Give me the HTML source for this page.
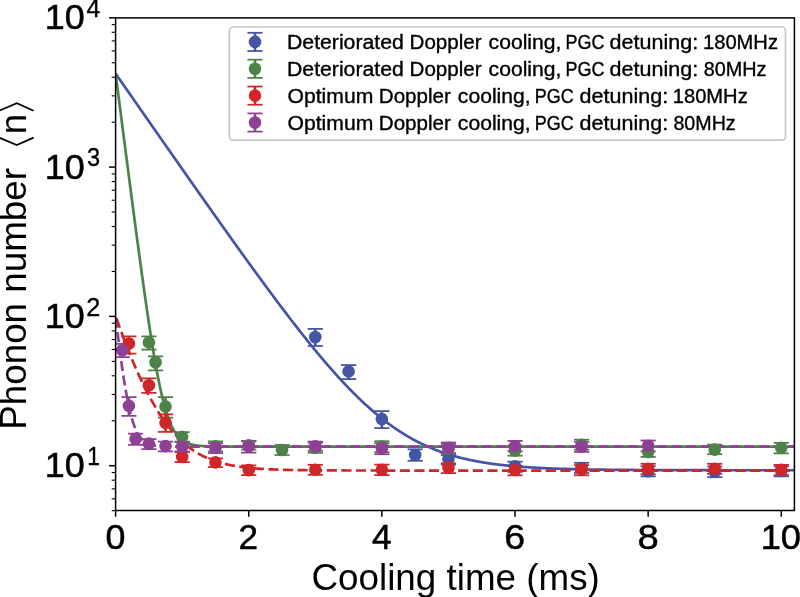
<!DOCTYPE html>
<html><head><meta charset="utf-8"><style>
html,body{margin:0;padding:0;background:#fff;width:800px;height:597px;overflow:hidden;font-family:"Liberation Sans",sans-serif;}
svg{display:block;will-change:transform;}
</style></head><body>
<svg width="800" height="597" viewBox="0 0 800 597">
<rect x="0" y="0" width="800" height="597" fill="#fff"/>
<defs><clipPath id="ax"><rect x="115.60" y="17.90" width="678.80" height="492.60"/></clipPath></defs>
<g clip-path="url(#ax)">
<line x1="315.31" y1="328.90" x2="315.31" y2="346.00" stroke="#4455a5" stroke-width="2.60"/>
<line x1="307.71" y1="328.90" x2="322.91" y2="328.90" stroke="#4455a5" stroke-width="1.75"/>
<line x1="307.71" y1="346.00" x2="322.91" y2="346.00" stroke="#4455a5" stroke-width="1.75"/>
<line x1="348.59" y1="365.10" x2="348.59" y2="379.10" stroke="#4455a5" stroke-width="2.60"/>
<line x1="340.99" y1="365.10" x2="356.19" y2="365.10" stroke="#4455a5" stroke-width="1.75"/>
<line x1="340.99" y1="379.10" x2="356.19" y2="379.10" stroke="#4455a5" stroke-width="1.75"/>
<line x1="381.88" y1="411.10" x2="381.88" y2="428.10" stroke="#4455a5" stroke-width="2.60"/>
<line x1="374.28" y1="411.10" x2="389.48" y2="411.10" stroke="#4455a5" stroke-width="1.75"/>
<line x1="374.28" y1="428.10" x2="389.48" y2="428.10" stroke="#4455a5" stroke-width="1.75"/>
<line x1="415.16" y1="449.30" x2="415.16" y2="460.80" stroke="#4455a5" stroke-width="2.60"/>
<line x1="407.56" y1="449.30" x2="422.76" y2="449.30" stroke="#4455a5" stroke-width="1.75"/>
<line x1="407.56" y1="460.80" x2="422.76" y2="460.80" stroke="#4455a5" stroke-width="1.75"/>
<line x1="448.45" y1="455.20" x2="448.45" y2="464.60" stroke="#4455a5" stroke-width="2.60"/>
<line x1="440.85" y1="455.20" x2="456.05" y2="455.20" stroke="#4455a5" stroke-width="1.75"/>
<line x1="440.85" y1="464.60" x2="456.05" y2="464.60" stroke="#4455a5" stroke-width="1.75"/>
<line x1="515.02" y1="461.70" x2="515.02" y2="471.90" stroke="#4455a5" stroke-width="2.60"/>
<line x1="507.42" y1="461.70" x2="522.62" y2="461.70" stroke="#4455a5" stroke-width="1.75"/>
<line x1="507.42" y1="471.90" x2="522.62" y2="471.90" stroke="#4455a5" stroke-width="1.75"/>
<line x1="581.59" y1="462.80" x2="581.59" y2="473.00" stroke="#4455a5" stroke-width="2.60"/>
<line x1="573.99" y1="462.80" x2="589.19" y2="462.80" stroke="#4455a5" stroke-width="1.75"/>
<line x1="573.99" y1="473.00" x2="589.19" y2="473.00" stroke="#4455a5" stroke-width="1.75"/>
<line x1="648.16" y1="466.30" x2="648.16" y2="476.40" stroke="#4455a5" stroke-width="2.60"/>
<line x1="640.56" y1="466.30" x2="655.76" y2="466.30" stroke="#4455a5" stroke-width="1.75"/>
<line x1="640.56" y1="476.40" x2="655.76" y2="476.40" stroke="#4455a5" stroke-width="1.75"/>
<line x1="714.73" y1="466.50" x2="714.73" y2="477.20" stroke="#4455a5" stroke-width="2.60"/>
<line x1="707.13" y1="466.50" x2="722.33" y2="466.50" stroke="#4455a5" stroke-width="1.75"/>
<line x1="707.13" y1="477.20" x2="722.33" y2="477.20" stroke="#4455a5" stroke-width="1.75"/>
<line x1="781.30" y1="466.30" x2="781.30" y2="476.40" stroke="#4455a5" stroke-width="2.60"/>
<line x1="773.70" y1="466.30" x2="788.90" y2="466.30" stroke="#4455a5" stroke-width="1.75"/>
<line x1="773.70" y1="476.40" x2="788.90" y2="476.40" stroke="#4455a5" stroke-width="1.75"/>
<path d="M115.60,73.55 L116.18,74.38 L116.75,75.21 L117.33,76.04 L117.91,76.87 L118.48,77.70 L119.06,78.53 L119.64,79.36 L120.22,80.19 L120.79,81.02 L121.37,81.85 L121.95,82.67 L122.52,83.50 L123.10,84.33 L123.68,85.16 L124.25,85.99 L124.83,86.82 L125.41,87.65 L125.98,88.48 L126.56,89.31 L127.14,90.14 L127.72,90.96 L128.29,91.79 L128.87,92.62 L129.45,93.45 L130.02,94.28 L130.60,95.11 L131.18,95.94 L131.75,96.77 L132.33,97.59 L132.91,98.42 L133.49,99.25 L134.06,100.08 L134.64,100.91 L135.22,101.74 L135.79,102.57 L136.37,103.39 L136.95,104.22 L137.52,105.05 L138.10,105.88 L138.68,106.71 L139.25,107.54 L139.83,108.36 L140.41,109.19 L140.99,110.02 L141.56,110.85 L142.14,111.68 L142.72,112.50 L143.29,113.33 L143.87,114.16 L144.45,114.99 L145.02,115.82 L145.60,116.64 L146.18,117.47 L146.75,118.30 L147.33,119.13 L147.91,119.95 L148.49,120.78 L149.06,121.61 L149.64,122.44 L150.22,123.26 L150.79,124.09 L151.37,124.92 L151.95,125.75 L152.52,126.57 L153.10,127.40 L153.68,128.23 L154.25,129.05 L154.83,129.88 L155.41,130.71 L155.99,131.53 L156.56,132.36 L157.14,133.19 L157.72,134.01 L158.29,134.84 L158.87,135.67 L159.45,136.49 L160.02,137.32 L160.60,138.15 L161.18,138.97 L161.76,139.80 L162.33,140.63 L162.91,141.45 L163.49,142.28 L164.06,143.10 L164.64,143.93 L165.22,144.76 L165.79,145.58 L166.37,146.41 L166.95,147.23 L167.52,148.06 L168.10,148.88 L168.68,149.71 L169.26,150.53 L169.83,151.36 L170.41,152.18 L170.99,153.01 L171.56,153.83 L172.14,154.66 L172.72,155.48 L173.29,156.31 L173.87,157.13 L174.45,157.96 L175.02,158.78 L175.60,159.61 L176.18,160.43 L176.76,161.26 L177.33,162.08 L177.91,162.90 L178.49,163.73 L179.06,164.55 L179.64,165.38 L180.22,166.20 L180.79,167.02 L181.37,167.85 L181.95,168.67 L182.53,169.49 L183.10,170.32 L183.68,171.14 L184.26,171.96 L184.83,172.79 L185.41,173.61 L185.99,174.43 L186.56,175.25 L187.14,176.08 L187.72,176.90 L188.29,177.72 L188.87,178.54 L189.45,179.36 L190.03,180.19 L190.60,181.01 L191.18,181.83 L191.76,182.65 L192.33,183.47 L192.91,184.29 L193.49,185.12 L194.06,185.94 L194.64,186.76 L195.22,187.58 L195.79,188.40 L196.37,189.22 L196.95,190.04 L197.53,190.86 L198.10,191.68 L198.68,192.50 L199.26,193.32 L199.83,194.14 L200.41,194.96 L200.99,195.78 L201.56,196.60 L202.14,197.42 L202.72,198.23 L203.29,199.05 L203.87,199.87 L204.45,200.69 L205.03,201.51 L205.60,202.33 L206.18,203.14 L206.76,203.96 L207.33,204.78 L207.91,205.60 L208.49,206.41 L209.06,207.23 L209.64,208.05 L210.22,208.86 L210.80,209.68 L211.37,210.50 L211.95,211.31 L212.53,212.13 L213.10,212.94 L213.68,213.76 L214.26,214.58 L214.83,215.39 L215.41,216.21 L215.99,217.02 L216.56,217.83 L217.14,218.65 L217.72,219.46 L218.30,220.28 L218.87,221.09 L219.45,221.90 L220.03,222.72 L220.60,223.53 L221.18,224.34 L221.76,225.15 L222.33,225.97 L222.91,226.78 L223.49,227.59 L224.06,228.40 L224.64,229.21 L225.22,230.02 L225.80,230.83 L226.37,231.65 L226.95,232.46 L227.53,233.27 L228.10,234.07 L228.68,234.88 L229.26,235.69 L229.83,236.50 L230.41,237.31 L230.99,238.12 L231.56,238.93 L232.14,239.73 L232.72,240.54 L233.30,241.35 L233.87,242.16 L234.45,242.96 L235.03,243.77 L235.60,244.57 L236.18,245.38 L236.76,246.19 L237.33,246.99 L237.91,247.79 L238.49,248.60 L239.07,249.40 L239.64,250.21 L240.22,251.01 L240.80,251.81 L241.37,252.61 L241.95,253.42 L242.53,254.22 L243.10,255.02 L243.68,255.82 L244.26,256.62 L244.83,257.42 L245.41,258.22 L245.99,259.02 L246.57,259.82 L247.14,260.62 L247.72,261.42 L248.30,262.22 L248.87,263.01 L249.45,263.81 L250.03,264.61 L250.60,265.40 L251.18,266.20 L251.76,266.99 L252.33,267.79 L252.91,268.58 L253.49,269.38 L254.07,270.17 L254.64,270.96 L255.22,271.76 L255.80,272.55 L256.37,273.34 L256.95,274.13 L257.53,274.92 L258.10,275.71 L258.68,276.50 L259.26,277.29 L259.83,278.08 L260.41,278.87 L260.99,279.66 L261.57,280.44 L262.14,281.23 L262.72,282.02 L263.30,282.80 L263.87,283.59 L264.45,284.37 L265.03,285.15 L265.60,285.94 L266.18,286.72 L266.76,287.50 L267.34,288.28 L267.91,289.06 L268.49,289.84 L269.07,290.62 L269.64,291.40 L270.22,292.18 L270.80,292.96 L271.37,293.73 L271.95,294.51 L272.53,295.29 L273.10,296.06 L273.68,296.84 L274.26,297.61 L274.84,298.38 L275.41,299.15 L275.99,299.93 L276.57,300.70 L277.14,301.47 L277.72,302.24 L278.30,303.01 L278.87,303.77 L279.45,304.54 L280.03,305.31 L280.60,306.07 L281.18,306.84 L281.76,307.60 L282.34,308.36 L282.91,309.13 L283.49,309.89 L284.07,310.65 L284.64,311.41 L285.22,312.17 L285.80,312.93 L286.37,313.68 L286.95,314.44 L287.53,315.20 L288.11,315.95 L288.68,316.71 L289.26,317.46 L289.84,318.21 L290.41,318.96 L290.99,319.71 L291.57,320.46 L292.14,321.21 L292.72,321.96 L293.30,322.70 L293.87,323.45 L294.45,324.19 L295.03,324.94 L295.61,325.68 L296.18,326.42 L296.76,327.16 L297.34,327.90 L297.91,328.64 L298.49,329.37 L299.07,330.11 L299.64,330.85 L300.22,331.58 L300.80,332.31 L301.37,333.04 L301.95,333.78 L302.53,334.50 L303.11,335.23 L303.68,335.96 L304.26,336.69 L304.84,337.41 L305.41,338.13 L305.99,338.86 L306.57,339.58 L307.14,340.30 L307.72,341.02 L308.30,341.73 L308.87,342.45 L309.45,343.16 L310.03,343.88 L310.61,344.59 L311.18,345.30 L311.76,346.01 L312.34,346.72 L312.91,347.43 L313.49,348.13 L314.07,348.84 L314.64,349.54 L315.22,350.24 L315.80,350.94 L316.38,351.64 L316.95,352.34 L317.53,353.03 L318.11,353.73 L318.68,354.42 L319.26,355.11 L319.84,355.80 L320.41,356.49 L320.99,357.17 L321.57,357.86 L322.14,358.54 L322.72,359.23 L323.30,359.91 L323.88,360.59 L324.45,361.26 L325.03,361.94 L325.61,362.61 L326.18,363.28 L326.76,363.96 L327.34,364.62 L327.91,365.29 L328.49,365.96 L329.07,366.62 L329.64,367.28 L330.22,367.94 L330.80,368.60 L331.38,369.26 L331.95,369.92 L332.53,370.57 L333.11,371.22 L333.68,371.87 L334.26,372.52 L334.84,373.17 L335.41,373.81 L335.99,374.45 L336.57,375.09 L337.14,375.73 L337.72,376.37 L338.30,377.00 L338.88,377.64 L339.45,378.27 L340.03,378.90 L340.61,379.52 L341.18,380.15 L341.76,380.77 L342.34,381.39 L342.91,382.01 L343.49,382.63 L344.07,383.25 L344.65,383.86 L345.22,384.47 L345.80,385.08 L346.38,385.69 L346.95,386.29 L347.53,386.89 L348.11,387.49 L348.68,388.09 L349.26,388.69 L349.84,389.28 L350.41,389.87 L350.99,390.46 L351.57,391.05 L352.15,391.64 L352.72,392.22 L353.30,392.80 L353.88,393.38 L354.45,393.95 L355.03,394.53 L355.61,395.10 L356.18,395.67 L356.76,396.24 L357.34,396.80 L357.91,397.36 L358.49,397.92 L359.07,398.48 L359.65,399.04 L360.22,399.59 L360.80,400.14 L361.38,400.69 L361.95,401.23 L362.53,401.78 L363.11,402.32 L363.68,402.86 L364.26,403.39 L364.84,403.93 L365.42,404.46 L365.99,404.99 L366.57,405.51 L367.15,406.04 L367.72,406.56 L368.30,407.08 L368.88,407.59 L369.45,408.11 L370.03,408.62 L370.61,409.13 L371.18,409.63 L371.76,410.14 L372.34,410.64 L372.92,411.14 L373.49,411.63 L374.07,412.13 L374.65,412.62 L375.22,413.11 L375.80,413.59 L376.38,414.07 L376.95,414.55 L377.53,415.03 L378.11,415.51 L378.68,415.98 L379.26,416.45 L379.84,416.92 L380.42,417.38 L380.99,417.85 L381.57,418.30 L382.15,418.76 L382.72,419.22 L383.30,419.67 L383.88,420.12 L384.45,420.56 L385.03,421.01 L385.61,421.45 L386.18,421.89 L386.76,422.32 L387.34,422.76 L387.92,423.19 L388.49,423.61 L389.07,424.04 L389.65,424.46 L390.22,424.88 L390.80,425.30 L391.38,425.71 L391.95,426.12 L392.53,426.53 L393.11,426.94 L393.69,427.34 L394.26,427.74 L394.84,428.14 L395.42,428.54 L395.99,428.93 L396.57,429.32 L397.15,429.71 L397.72,430.10 L398.30,430.48 L398.88,430.86 L399.45,431.24 L400.03,431.61 L400.61,431.98 L401.19,432.35 L401.76,432.72 L402.34,433.08 L402.92,433.44 L403.49,433.80 L404.07,434.16 L404.65,434.51 L405.22,434.86 L405.80,435.21 L406.38,435.56 L406.95,435.90 L407.53,436.24 L408.11,436.58 L408.69,436.92 L409.26,437.25 L409.84,437.58 L410.42,437.91 L410.99,438.23 L411.57,438.56 L412.15,438.88 L412.72,439.19 L413.30,439.51 L413.88,439.82 L414.45,440.13 L415.03,440.44 L415.61,440.74 L416.19,441.05 L416.76,441.35 L417.34,441.65 L417.92,441.94 L418.49,442.23 L419.07,442.52 L419.65,442.81 L420.22,443.10 L420.80,443.38 L421.38,443.66 L421.96,443.94 L422.53,444.22 L423.11,444.49 L423.69,444.76 L424.26,445.03 L424.84,445.30 L425.42,445.56 L425.99,445.83 L426.57,446.09 L427.15,446.34 L427.72,446.60 L428.30,446.85 L428.88,447.10 L429.46,447.35 L430.03,447.60 L430.61,447.84 L431.19,448.08 L431.76,448.32 L432.34,448.56 L432.92,448.80 L433.49,449.03 L434.07,449.26 L434.65,449.49 L435.22,449.72 L435.80,449.94 L436.38,450.16 L436.96,450.38 L437.53,450.60 L438.11,450.82 L438.69,451.03 L439.26,451.25 L439.84,451.46 L440.42,451.66 L440.99,451.87 L441.57,452.08 L442.15,452.28 L442.72,452.48 L443.30,452.68 L443.88,452.87 L444.46,453.07 L445.03,453.26 L445.61,453.45 L446.19,453.64 L446.76,453.83 L447.34,454.01 L447.92,454.20 L448.49,454.38 L449.07,454.56 L449.65,454.74 L450.23,454.91 L450.80,455.09 L451.38,455.26 L451.96,455.43 L452.53,455.60 L453.11,455.77 L453.69,455.93 L454.26,456.10 L454.84,456.26 L455.42,456.42 L455.99,456.58 L456.57,456.74 L457.15,456.89 L457.73,457.05 L458.30,457.20 L458.88,457.35 L459.46,457.50 L460.03,457.65 L460.61,457.79 L461.19,457.94 L461.76,458.08 L462.34,458.22 L462.92,458.36 L463.49,458.50 L464.07,458.64 L464.65,458.77 L465.23,458.91 L465.80,459.04 L466.38,459.17 L466.96,459.30 L467.53,459.43 L468.11,459.56 L468.69,459.68 L469.26,459.81 L469.84,459.93 L470.42,460.05 L471.00,460.17 L471.57,460.29 L472.15,460.41 L472.73,460.53 L473.30,460.64 L473.88,460.76 L474.46,460.87 L475.03,460.98 L475.61,461.09 L476.19,461.20 L476.76,461.31 L477.34,461.41 L477.92,461.52 L478.50,461.62 L479.07,461.73 L479.65,461.83 L480.23,461.93 L480.80,462.03 L481.38,462.13 L481.96,462.23 L482.53,462.32 L483.11,462.42 L483.69,462.51 L484.26,462.61 L484.84,462.70 L485.42,462.79 L486.00,462.88 L486.57,462.97 L487.15,463.06 L487.73,463.14 L488.30,463.23 L488.88,463.31 L489.46,463.40 L490.03,463.48 L490.61,463.56 L491.19,463.64 L491.76,463.72 L492.34,463.80 L492.92,463.88 L493.50,463.96 L494.07,464.04 L494.65,464.11 L495.23,464.19 L495.80,464.26 L496.38,464.33 L496.96,464.41 L497.53,464.48 L498.11,464.55 L498.69,464.62 L499.27,464.69 L499.84,464.75 L500.42,464.82 L501.00,464.89 L501.57,464.95 L502.15,465.02 L502.73,465.08 L503.30,465.15 L503.88,465.21 L504.46,465.27 L505.03,465.33 L505.61,465.39 L506.19,465.45 L506.77,465.51 L507.34,465.57 L507.92,465.63 L508.50,465.69 L509.07,465.74 L509.65,465.80 L510.23,465.85 L510.80,465.91 L511.38,465.96 L511.96,466.01 L512.53,466.07 L513.11,466.12 L513.69,466.17 L514.27,466.22 L514.84,466.27 L515.42,466.32 L516.00,466.37 L516.57,466.42 L517.15,466.46 L517.73,466.51 L518.30,466.56 L518.88,466.60 L519.46,466.65 L520.03,466.69 L520.61,466.74 L521.19,466.78 L521.77,466.83 L522.34,466.87 L522.92,466.91 L523.50,466.95 L524.07,466.99 L524.65,467.03 L525.23,467.07 L525.80,467.11 L526.38,467.15 L526.96,467.19 L527.54,467.23 L528.11,467.27 L528.69,467.30 L529.27,467.34 L529.84,467.38 L530.42,467.41 L531.00,467.45 L531.57,467.48 L532.15,467.52 L532.73,467.55 L533.30,467.59 L533.88,467.62 L534.46,467.65 L535.04,467.69 L535.61,467.72 L536.19,467.75 L536.77,467.78 L537.34,467.81 L537.92,467.84 L538.50,467.87 L539.07,467.90 L539.65,467.93 L540.23,467.96 L540.80,467.99 L541.38,468.02 L541.96,468.05 L542.54,468.08 L543.11,468.10 L543.69,468.13 L544.27,468.16 L544.84,468.18 L545.42,468.21 L546.00,468.24 L546.57,468.26 L547.15,468.29 L547.73,468.31 L548.30,468.34 L548.88,468.36 L549.46,468.38 L550.04,468.41 L550.61,468.43 L551.19,468.45 L551.77,468.48 L552.34,468.50 L552.92,468.52 L553.50,468.54 L554.07,468.57 L554.65,468.59 L555.23,468.61 L555.81,468.63 L556.38,468.65 L556.96,468.67 L557.54,468.69 L558.11,468.71 L558.69,468.73 L559.27,468.75 L559.84,468.77 L560.42,468.79 L561.00,468.80 L561.57,468.82 L562.15,468.84 L562.73,468.86 L563.31,468.88 L563.88,468.89 L564.46,468.91 L565.04,468.93 L565.61,468.95 L566.19,468.96 L566.77,468.98 L567.34,469.00 L567.92,469.01 L568.50,469.03 L569.07,469.04 L569.65,469.06 L570.23,469.07 L570.81,469.09 L571.38,469.10 L571.96,469.12 L572.54,469.13 L573.11,469.15 L573.69,469.16 L574.27,469.17 L574.84,469.19 L575.42,469.20 L576.00,469.22 L576.58,469.23 L577.15,469.24 L577.73,469.26 L578.31,469.27 L578.88,469.28 L579.46,469.29 L580.04,469.31 L580.61,469.32 L581.19,469.33 L581.77,469.34 L582.34,469.35 L582.92,469.36 L583.50,469.38 L584.08,469.39 L584.65,469.40 L585.23,469.41 L585.81,469.42 L586.38,469.43 L586.96,469.44 L587.54,469.45 L588.11,469.46 L588.69,469.47 L589.27,469.48 L589.84,469.49 L590.42,469.50 L591.00,469.51 L591.58,469.52 L592.15,469.53 L592.73,469.54 L593.31,469.55 L593.88,469.56 L594.46,469.57 L595.04,469.58 L595.61,469.58 L596.19,469.59 L596.77,469.60 L597.34,469.61 L597.92,469.62 L598.50,469.63 L599.08,469.64 L599.65,469.64 L600.23,469.65 L600.81,469.66 L601.38,469.67 L601.96,469.67 L602.54,469.68 L603.11,469.69 L603.69,469.70 L604.27,469.70 L604.85,469.71 L605.42,469.72 L606.00,469.72 L606.58,469.73 L607.15,469.74 L607.73,469.75 L608.31,469.75 L608.88,469.76 L609.46,469.76 L610.04,469.77 L610.61,469.78 L611.19,469.78 L611.77,469.79 L612.35,469.80 L612.92,469.80 L613.50,469.81 L614.08,469.81 L614.65,469.82 L615.23,469.82 L615.81,469.83 L616.38,469.84 L616.96,469.84 L617.54,469.85 L618.11,469.85 L618.69,469.86 L619.27,469.86 L619.85,469.87 L620.42,469.87 L621.00,469.88 L621.58,469.88 L622.15,469.89 L622.73,469.89 L623.31,469.90 L623.88,469.90 L624.46,469.91 L625.04,469.91 L625.61,469.92 L626.19,469.92 L626.77,469.92 L627.35,469.93 L627.92,469.93 L628.50,469.94 L629.08,469.94 L629.65,469.95 L630.23,469.95 L630.81,469.95 L631.38,469.96 L631.96,469.96 L632.54,469.97 L633.12,469.97 L633.69,469.97 L634.27,469.98 L634.85,469.98 L635.42,469.98 L636.00,469.99 L636.58,469.99 L637.15,469.99 L637.73,470.00 L638.31,470.00 L638.88,470.00 L639.46,470.01 L640.04,470.01 L640.62,470.01 L641.19,470.02 L641.77,470.02 L642.35,470.02 L642.92,470.03 L643.50,470.03 L644.08,470.03 L644.65,470.04 L645.23,470.04 L645.81,470.04 L646.38,470.04 L646.96,470.05 L647.54,470.05 L648.12,470.05 L648.69,470.06 L649.27,470.06 L649.85,470.06 L650.42,470.06 L651.00,470.07 L651.58,470.07 L652.15,470.07 L652.73,470.07 L653.31,470.08 L653.89,470.08 L654.46,470.08 L655.04,470.08 L655.62,470.09 L656.19,470.09 L656.77,470.09 L657.35,470.09 L657.92,470.09 L658.50,470.10 L659.08,470.10 L659.65,470.10 L660.23,470.10 L660.81,470.11 L661.39,470.11 L661.96,470.11 L662.54,470.11 L663.12,470.11 L663.69,470.12 L664.27,470.12 L664.85,470.12 L665.42,470.12 L666.00,470.12 L666.58,470.12 L667.15,470.13 L667.73,470.13 L668.31,470.13 L668.89,470.13 L669.46,470.13 L670.04,470.14 L670.62,470.14 L671.19,470.14 L671.77,470.14 L672.35,470.14 L672.92,470.14 L673.50,470.15 L674.08,470.15 L674.65,470.15 L675.23,470.15 L675.81,470.15 L676.39,470.15 L676.96,470.15 L677.54,470.16 L678.12,470.16 L678.69,470.16 L679.27,470.16 L679.85,470.16 L680.42,470.16 L681.00,470.16 L681.58,470.16 L682.16,470.17 L682.73,470.17 L683.31,470.17 L683.89,470.17 L684.46,470.17 L685.04,470.17 L685.62,470.17 L686.19,470.17 L686.77,470.18 L687.35,470.18 L687.92,470.18 L688.50,470.18 L689.08,470.18 L689.66,470.18 L690.23,470.18 L690.81,470.18 L691.39,470.18 L691.96,470.19 L692.54,470.19 L693.12,470.19 L693.69,470.19 L694.27,470.19 L694.85,470.19 L695.42,470.19 L696.00,470.19 L696.58,470.19 L697.16,470.19 L697.73,470.20 L698.31,470.20 L698.89,470.20 L699.46,470.20 L700.04,470.20 L700.62,470.20 L701.19,470.20 L701.77,470.20 L702.35,470.20 L702.92,470.20 L703.50,470.20 L704.08,470.20 L704.66,470.21 L705.23,470.21 L705.81,470.21 L706.39,470.21 L706.96,470.21 L707.54,470.21 L708.12,470.21 L708.69,470.21 L709.27,470.21 L709.85,470.21 L710.43,470.21 L711.00,470.21 L711.58,470.21 L712.16,470.21 L712.73,470.22 L713.31,470.22 L713.89,470.22 L714.46,470.22 L715.04,470.22 L715.62,470.22 L716.19,470.22 L716.77,470.22 L717.35,470.22 L717.93,470.22 L718.50,470.22 L719.08,470.22 L719.66,470.22 L720.23,470.22 L720.81,470.22 L721.39,470.22 L721.96,470.22 L722.54,470.23 L723.12,470.23 L723.69,470.23 L724.27,470.23 L724.85,470.23 L725.43,470.23 L726.00,470.23 L726.58,470.23 L727.16,470.23 L727.73,470.23 L728.31,470.23 L728.89,470.23 L729.46,470.23 L730.04,470.23 L730.62,470.23 L731.19,470.23 L731.77,470.23 L732.35,470.23 L732.93,470.23 L733.50,470.23 L734.08,470.23 L734.66,470.24 L735.23,470.24 L735.81,470.24 L736.39,470.24 L736.96,470.24 L737.54,470.24 L738.12,470.24 L738.70,470.24 L739.27,470.24 L739.85,470.24 L740.43,470.24 L741.00,470.24 L741.58,470.24 L742.16,470.24 L742.73,470.24 L743.31,470.24 L743.89,470.24 L744.46,470.24 L745.04,470.24 L745.62,470.24 L746.20,470.24 L746.77,470.24 L747.35,470.24 L747.93,470.24 L748.50,470.24 L749.08,470.24 L749.66,470.24 L750.23,470.24 L750.81,470.24 L751.39,470.24 L751.96,470.24 L752.54,470.25 L753.12,470.25 L753.70,470.25 L754.27,470.25 L754.85,470.25 L755.43,470.25 L756.00,470.25 L756.58,470.25 L757.16,470.25 L757.73,470.25 L758.31,470.25 L758.89,470.25 L759.47,470.25 L760.04,470.25 L760.62,470.25 L761.20,470.25 L761.77,470.25 L762.35,470.25 L762.93,470.25 L763.50,470.25 L764.08,470.25 L764.66,470.25 L765.23,470.25 L765.81,470.25 L766.39,470.25 L766.97,470.25 L767.54,470.25 L768.12,470.25 L768.70,470.25 L769.27,470.25 L769.85,470.25 L770.43,470.25 L771.00,470.25 L771.58,470.25 L772.16,470.25 L772.73,470.25 L773.31,470.25 L773.89,470.25 L774.47,470.25 L775.04,470.25 L775.62,470.25 L776.20,470.25 L776.77,470.25 L777.35,470.25 L777.93,470.25 L778.50,470.25 L779.08,470.25 L779.66,470.25 L780.23,470.25 L780.81,470.26 L781.39,470.26 L781.97,470.26 L782.54,470.26 L783.12,470.26 L783.70,470.26 L784.27,470.26 L784.85,470.26 L785.43,470.26 L786.00,470.26 L786.58,470.26 L787.16,470.26 L787.74,470.26 L788.31,470.26 L788.89,470.26 L789.47,470.26 L790.04,470.26 L790.62,470.26 L791.20,470.26 L791.77,470.26 L792.35,470.26 L792.93,470.26 L793.50,470.26 L794.08,470.26 L794.66,470.26 L795.24,470.26 L795.81,470.26 L796.39,470.26 L796.97,470.26 L797.54,470.26 L798.12,470.26 L798.70,470.26 L799.27,470.26 L799.85,470.26 L800.43,470.26 L801.00,470.26 L801.58,470.26 L802.16,470.26 L802.74,470.26 L803.31,470.26 L803.89,470.26 L804.47,470.26 L805.04,470.26 L805.62,470.26 L806.20,470.26 L806.77,470.26 L807.35,470.26 L807.93,470.26" fill="none" stroke="#4455a5" stroke-width="2.70"/>
<line x1="148.88" y1="336.30" x2="148.88" y2="349.70" stroke="#4d8248" stroke-width="2.60"/>
<line x1="141.28" y1="336.30" x2="156.48" y2="336.30" stroke="#4d8248" stroke-width="1.75"/>
<line x1="141.28" y1="349.70" x2="156.48" y2="349.70" stroke="#4d8248" stroke-width="1.75"/>
<line x1="155.54" y1="356.40" x2="155.54" y2="370.30" stroke="#4d8248" stroke-width="2.60"/>
<line x1="147.94" y1="356.40" x2="163.14" y2="356.40" stroke="#4d8248" stroke-width="1.75"/>
<line x1="147.94" y1="370.30" x2="163.14" y2="370.30" stroke="#4d8248" stroke-width="1.75"/>
<line x1="165.53" y1="397.20" x2="165.53" y2="417.50" stroke="#4d8248" stroke-width="2.60"/>
<line x1="157.93" y1="397.20" x2="173.13" y2="397.20" stroke="#4d8248" stroke-width="1.75"/>
<line x1="157.93" y1="417.50" x2="173.13" y2="417.50" stroke="#4d8248" stroke-width="1.75"/>
<line x1="182.17" y1="432.20" x2="182.17" y2="441.50" stroke="#4d8248" stroke-width="2.60"/>
<line x1="174.57" y1="432.20" x2="189.77" y2="432.20" stroke="#4d8248" stroke-width="1.75"/>
<line x1="174.57" y1="441.50" x2="189.77" y2="441.50" stroke="#4d8248" stroke-width="1.75"/>
<line x1="215.45" y1="441.40" x2="215.45" y2="451.40" stroke="#4d8248" stroke-width="2.60"/>
<line x1="207.85" y1="441.40" x2="223.05" y2="441.40" stroke="#4d8248" stroke-width="1.75"/>
<line x1="207.85" y1="451.40" x2="223.05" y2="451.40" stroke="#4d8248" stroke-width="1.75"/>
<line x1="248.74" y1="440.80" x2="248.74" y2="449.60" stroke="#4d8248" stroke-width="2.60"/>
<line x1="241.14" y1="440.80" x2="256.34" y2="440.80" stroke="#4d8248" stroke-width="1.75"/>
<line x1="241.14" y1="449.60" x2="256.34" y2="449.60" stroke="#4d8248" stroke-width="1.75"/>
<line x1="282.02" y1="445.00" x2="282.02" y2="455.00" stroke="#4d8248" stroke-width="2.60"/>
<line x1="274.42" y1="445.00" x2="289.62" y2="445.00" stroke="#4d8248" stroke-width="1.75"/>
<line x1="274.42" y1="455.00" x2="289.62" y2="455.00" stroke="#4d8248" stroke-width="1.75"/>
<line x1="315.31" y1="442.80" x2="315.31" y2="452.80" stroke="#4d8248" stroke-width="2.60"/>
<line x1="307.71" y1="442.80" x2="322.91" y2="442.80" stroke="#4d8248" stroke-width="1.75"/>
<line x1="307.71" y1="452.80" x2="322.91" y2="452.80" stroke="#4d8248" stroke-width="1.75"/>
<line x1="381.88" y1="441.20" x2="381.88" y2="452.10" stroke="#4d8248" stroke-width="2.60"/>
<line x1="374.28" y1="441.20" x2="389.48" y2="441.20" stroke="#4d8248" stroke-width="1.75"/>
<line x1="374.28" y1="452.10" x2="389.48" y2="452.10" stroke="#4d8248" stroke-width="1.75"/>
<line x1="448.45" y1="444.00" x2="448.45" y2="453.80" stroke="#4d8248" stroke-width="2.60"/>
<line x1="440.85" y1="444.00" x2="456.05" y2="444.00" stroke="#4d8248" stroke-width="1.75"/>
<line x1="440.85" y1="453.80" x2="456.05" y2="453.80" stroke="#4d8248" stroke-width="1.75"/>
<line x1="515.02" y1="445.50" x2="515.02" y2="455.70" stroke="#4d8248" stroke-width="2.60"/>
<line x1="507.42" y1="445.50" x2="522.62" y2="445.50" stroke="#4d8248" stroke-width="1.75"/>
<line x1="507.42" y1="455.70" x2="522.62" y2="455.70" stroke="#4d8248" stroke-width="1.75"/>
<line x1="581.59" y1="439.70" x2="581.59" y2="449.70" stroke="#4d8248" stroke-width="2.60"/>
<line x1="573.99" y1="439.70" x2="589.19" y2="439.70" stroke="#4d8248" stroke-width="1.75"/>
<line x1="573.99" y1="449.70" x2="589.19" y2="449.70" stroke="#4d8248" stroke-width="1.75"/>
<line x1="648.16" y1="447.00" x2="648.16" y2="456.90" stroke="#4d8248" stroke-width="2.60"/>
<line x1="640.56" y1="447.00" x2="655.76" y2="447.00" stroke="#4d8248" stroke-width="1.75"/>
<line x1="640.56" y1="456.90" x2="655.76" y2="456.90" stroke="#4d8248" stroke-width="1.75"/>
<line x1="714.73" y1="444.60" x2="714.73" y2="454.20" stroke="#4d8248" stroke-width="2.60"/>
<line x1="707.13" y1="444.60" x2="722.33" y2="444.60" stroke="#4d8248" stroke-width="1.75"/>
<line x1="707.13" y1="454.20" x2="722.33" y2="454.20" stroke="#4d8248" stroke-width="1.75"/>
<line x1="781.30" y1="442.90" x2="781.30" y2="453.30" stroke="#4d8248" stroke-width="2.60"/>
<line x1="773.70" y1="442.90" x2="788.90" y2="442.90" stroke="#4d8248" stroke-width="1.75"/>
<line x1="773.70" y1="453.30" x2="788.90" y2="453.30" stroke="#4d8248" stroke-width="1.75"/>
<path d="M115.60,73.59 L116.18,78.07 L116.75,82.55 L117.33,87.04 L117.91,91.52 L118.48,96.00 L119.06,100.48 L119.64,104.95 L120.22,109.43 L120.79,113.90 L121.37,118.37 L121.95,122.84 L122.52,127.31 L123.10,131.78 L123.68,136.24 L124.25,140.70 L124.83,145.16 L125.41,149.61 L125.98,154.06 L126.56,158.51 L127.14,162.96 L127.72,167.40 L128.29,171.83 L128.87,176.26 L129.45,180.69 L130.02,185.11 L130.60,189.53 L131.18,193.94 L131.75,198.35 L132.33,202.74 L132.91,207.13 L133.49,211.52 L134.06,215.89 L134.64,220.26 L135.22,224.62 L135.79,228.97 L136.37,233.30 L136.95,237.63 L137.52,241.94 L138.10,246.24 L138.68,250.53 L139.25,254.80 L139.83,259.06 L140.41,263.30 L140.99,267.53 L141.56,271.73 L142.14,275.92 L142.72,280.08 L143.29,284.23 L143.87,288.35 L144.45,292.44 L145.02,296.51 L145.60,300.55 L146.18,304.56 L146.75,308.54 L147.33,312.49 L147.91,316.40 L148.49,320.28 L149.06,324.12 L149.64,327.92 L150.22,331.67 L150.79,335.39 L151.37,339.05 L151.95,342.67 L152.52,346.24 L153.10,349.76 L153.68,353.22 L154.25,356.62 L154.83,359.97 L155.41,363.26 L155.99,366.48 L156.56,369.64 L157.14,372.73 L157.72,375.76 L158.29,378.71 L158.87,381.60 L159.45,384.41 L160.02,387.15 L160.60,389.81 L161.18,392.40 L161.76,394.91 L162.33,397.35 L162.91,399.70 L163.49,401.98 L164.06,404.18 L164.64,406.30 L165.22,408.35 L165.79,410.32 L166.37,412.21 L166.95,414.02 L167.52,415.76 L168.10,417.43 L168.68,419.03 L169.26,420.55 L169.83,422.01 L170.41,423.39 L170.99,424.72 L171.56,425.98 L172.14,427.17 L172.72,428.31 L173.29,429.39 L173.87,430.41 L174.45,431.38 L175.02,432.30 L175.60,433.16 L176.18,433.98 L176.76,434.76 L177.33,435.49 L177.91,436.18 L178.49,436.83 L179.06,437.44 L179.64,438.02 L180.22,438.56 L180.79,439.07 L181.37,439.55 L181.95,440.00 L182.53,440.43 L183.10,440.82 L183.68,441.20 L184.26,441.55 L184.83,441.88 L185.41,442.18 L185.99,442.47 L186.56,442.74 L187.14,443.00 L187.72,443.23 L188.29,443.45 L188.87,443.66 L189.45,443.86 L190.03,444.04 L190.60,444.21 L191.18,444.37 L191.76,444.52 L192.33,444.66 L192.91,444.79 L193.49,444.91 L194.06,445.02 L194.64,445.13 L195.22,445.23 L195.79,445.32 L196.37,445.41 L196.95,445.49 L197.53,445.56 L198.10,445.63 L198.68,445.70 L199.26,445.76 L199.83,445.82 L200.41,445.87 L200.99,445.92 L201.56,445.97 L202.14,446.01 L202.72,446.06 L203.29,446.09 L203.87,446.13 L204.45,446.16 L205.03,446.19 L205.60,446.22 L206.18,446.25 L206.76,446.27 L207.33,446.30 L207.91,446.32 L208.49,446.34 L209.06,446.36 L209.64,446.38 L210.22,446.39 L210.80,446.41 L211.37,446.42 L211.95,446.44 L212.53,446.45 L213.10,446.46 L213.68,446.47 L214.26,446.48 L214.83,446.49 L215.41,446.50 L215.99,446.51 L216.56,446.52 L217.14,446.53 L217.72,446.53 L218.30,446.54 L218.87,446.54 L219.45,446.55 L220.03,446.56 L220.60,446.56 L221.18,446.56 L221.76,446.57 L222.33,446.57 L222.91,446.58 L223.49,446.58 L224.06,446.58 L224.64,446.59 L225.22,446.59 L225.80,446.59 L226.37,446.59 L226.95,446.60 L227.53,446.60 L228.10,446.60 L228.68,446.60 L229.26,446.60 L229.83,446.60 L230.41,446.61 L230.99,446.61 L231.56,446.61 L232.14,446.61 L232.72,446.61 L233.30,446.61 L233.87,446.61 L234.45,446.61 L235.03,446.61 L235.60,446.62 L236.18,446.62 L236.76,446.62 L237.33,446.62 L237.91,446.62 L238.49,446.62 L239.07,446.62 L239.64,446.62 L240.22,446.62 L240.80,446.62 L241.37,446.62 L241.95,446.62 L242.53,446.62 L243.10,446.62 L243.68,446.62 L244.26,446.62 L244.83,446.62 L245.41,446.62 L245.99,446.62 L246.57,446.62 L247.14,446.62 L247.72,446.62 L248.30,446.62 L248.87,446.62 L249.45,446.62 L250.03,446.62 L250.60,446.62 L251.18,446.62 L251.76,446.62 L252.33,446.63 L252.91,446.63 L253.49,446.63 L254.07,446.63 L254.64,446.63 L255.22,446.63 L255.80,446.63 L256.37,446.63 L256.95,446.63 L257.53,446.63 L258.10,446.63 L258.68,446.63 L259.26,446.63 L259.83,446.63 L260.41,446.63 L260.99,446.63 L261.57,446.63 L262.14,446.63 L262.72,446.63 L263.30,446.63 L263.87,446.63 L264.45,446.63 L265.03,446.63 L265.60,446.63 L266.18,446.63 L266.76,446.63 L267.34,446.63 L267.91,446.63 L268.49,446.63 L269.07,446.63 L269.64,446.63 L270.22,446.63 L270.80,446.63 L271.37,446.63 L271.95,446.63 L272.53,446.63 L273.10,446.63 L273.68,446.63 L274.26,446.63 L274.84,446.63 L275.41,446.63 L275.99,446.63 L276.57,446.63 L277.14,446.63 L277.72,446.63 L278.30,446.63 L278.87,446.63 L279.45,446.63 L280.03,446.63 L280.60,446.63 L281.18,446.63 L281.76,446.63 L282.34,446.63 L282.91,446.63 L283.49,446.63 L284.07,446.63 L284.64,446.63 L285.22,446.63 L285.80,446.63 L286.37,446.63 L286.95,446.63 L287.53,446.63 L288.11,446.63 L288.68,446.63 L289.26,446.63 L289.84,446.63 L290.41,446.63 L290.99,446.63 L291.57,446.63 L292.14,446.63 L292.72,446.63 L293.30,446.63 L293.87,446.63 L294.45,446.63 L295.03,446.63 L295.61,446.63 L296.18,446.63 L296.76,446.63 L297.34,446.63 L297.91,446.63 L298.49,446.63 L299.07,446.63 L299.64,446.63 L300.22,446.63 L300.80,446.63 L301.37,446.63 L301.95,446.63 L302.53,446.63 L303.11,446.63 L303.68,446.63 L304.26,446.63 L304.84,446.63 L305.41,446.63 L305.99,446.63 L306.57,446.63 L307.14,446.63 L307.72,446.63 L308.30,446.63 L308.87,446.63 L309.45,446.63 L310.03,446.63 L310.61,446.63 L311.18,446.63 L311.76,446.63 L312.34,446.63 L312.91,446.63 L313.49,446.63 L314.07,446.63 L314.64,446.63 L315.22,446.63 L315.80,446.63 L316.38,446.63 L316.95,446.63 L317.53,446.63 L318.11,446.63 L318.68,446.63 L319.26,446.63 L319.84,446.63 L320.41,446.63 L320.99,446.63 L321.57,446.63 L322.14,446.63 L322.72,446.63 L323.30,446.63 L323.88,446.63 L324.45,446.63 L325.03,446.63 L325.61,446.63 L326.18,446.63 L326.76,446.63 L327.34,446.63 L327.91,446.63 L328.49,446.63 L329.07,446.63 L329.64,446.63 L330.22,446.63 L330.80,446.63 L331.38,446.63 L331.95,446.63 L332.53,446.63 L333.11,446.63 L333.68,446.63 L334.26,446.63 L334.84,446.63 L335.41,446.63 L335.99,446.63 L336.57,446.63 L337.14,446.63 L337.72,446.63 L338.30,446.63 L338.88,446.63 L339.45,446.63 L340.03,446.63 L340.61,446.63 L341.18,446.63 L341.76,446.63 L342.34,446.63 L342.91,446.63 L343.49,446.63 L344.07,446.63 L344.65,446.63 L345.22,446.63 L345.80,446.63 L346.38,446.63 L346.95,446.63 L347.53,446.63 L348.11,446.63 L348.68,446.63 L349.26,446.63 L349.84,446.63 L350.41,446.63 L350.99,446.63 L351.57,446.63 L352.15,446.63 L352.72,446.63 L353.30,446.63 L353.88,446.63 L354.45,446.63 L355.03,446.63 L355.61,446.63 L356.18,446.63 L356.76,446.63 L357.34,446.63 L357.91,446.63 L358.49,446.63 L359.07,446.63 L359.65,446.63 L360.22,446.63 L360.80,446.63 L361.38,446.63 L361.95,446.63 L362.53,446.63 L363.11,446.63 L363.68,446.63 L364.26,446.63 L364.84,446.63 L365.42,446.63 L365.99,446.63 L366.57,446.63 L367.15,446.63 L367.72,446.63 L368.30,446.63 L368.88,446.63 L369.45,446.63 L370.03,446.63 L370.61,446.63 L371.18,446.63 L371.76,446.63 L372.34,446.63 L372.92,446.63 L373.49,446.63 L374.07,446.63 L374.65,446.63 L375.22,446.63 L375.80,446.63 L376.38,446.63 L376.95,446.63 L377.53,446.63 L378.11,446.63 L378.68,446.63 L379.26,446.63 L379.84,446.63 L380.42,446.63 L380.99,446.63 L381.57,446.63 L382.15,446.63 L382.72,446.63 L383.30,446.63 L383.88,446.63 L384.45,446.63 L385.03,446.63 L385.61,446.63 L386.18,446.63 L386.76,446.63 L387.34,446.63 L387.92,446.63 L388.49,446.63 L389.07,446.63 L389.65,446.63 L390.22,446.63 L390.80,446.63 L391.38,446.63 L391.95,446.63 L392.53,446.63 L393.11,446.63 L393.69,446.63 L394.26,446.63 L394.84,446.63 L395.42,446.63 L395.99,446.63 L396.57,446.63 L397.15,446.63 L397.72,446.63 L398.30,446.63 L398.88,446.63 L399.45,446.63 L400.03,446.63 L400.61,446.63 L401.19,446.63 L401.76,446.63 L402.34,446.63 L402.92,446.63 L403.49,446.63 L404.07,446.63 L404.65,446.63 L405.22,446.63 L405.80,446.63 L406.38,446.63 L406.95,446.63 L407.53,446.63 L408.11,446.63 L408.69,446.63 L409.26,446.63 L409.84,446.63 L410.42,446.63 L410.99,446.63 L411.57,446.63 L412.15,446.63 L412.72,446.63 L413.30,446.63 L413.88,446.63 L414.45,446.63 L415.03,446.63 L415.61,446.63 L416.19,446.63 L416.76,446.63 L417.34,446.63 L417.92,446.63 L418.49,446.63 L419.07,446.63 L419.65,446.63 L420.22,446.63 L420.80,446.63 L421.38,446.63 L421.96,446.63 L422.53,446.63 L423.11,446.63 L423.69,446.63 L424.26,446.63 L424.84,446.63 L425.42,446.63 L425.99,446.63 L426.57,446.63 L427.15,446.63 L427.72,446.63 L428.30,446.63 L428.88,446.63 L429.46,446.63 L430.03,446.63 L430.61,446.63 L431.19,446.63 L431.76,446.63 L432.34,446.63 L432.92,446.63 L433.49,446.63 L434.07,446.63 L434.65,446.63 L435.22,446.63 L435.80,446.63 L436.38,446.63 L436.96,446.63 L437.53,446.63 L438.11,446.63 L438.69,446.63 L439.26,446.63 L439.84,446.63 L440.42,446.63 L440.99,446.63 L441.57,446.63 L442.15,446.63 L442.72,446.63 L443.30,446.63 L443.88,446.63 L444.46,446.63 L445.03,446.63 L445.61,446.63 L446.19,446.63 L446.76,446.63 L447.34,446.63 L447.92,446.63 L448.49,446.63 L449.07,446.63 L449.65,446.63 L450.23,446.63 L450.80,446.63 L451.38,446.63 L451.96,446.63 L452.53,446.63 L453.11,446.63 L453.69,446.63 L454.26,446.63 L454.84,446.63 L455.42,446.63 L455.99,446.63 L456.57,446.63 L457.15,446.63 L457.73,446.63 L458.30,446.63 L458.88,446.63 L459.46,446.63 L460.03,446.63 L460.61,446.63 L461.19,446.63 L461.76,446.63 L462.34,446.63 L462.92,446.63 L463.49,446.63 L464.07,446.63 L464.65,446.63 L465.23,446.63 L465.80,446.63 L466.38,446.63 L466.96,446.63 L467.53,446.63 L468.11,446.63 L468.69,446.63 L469.26,446.63 L469.84,446.63 L470.42,446.63 L471.00,446.63 L471.57,446.63 L472.15,446.63 L472.73,446.63 L473.30,446.63 L473.88,446.63 L474.46,446.63 L475.03,446.63 L475.61,446.63 L476.19,446.63 L476.76,446.63 L477.34,446.63 L477.92,446.63 L478.50,446.63 L479.07,446.63 L479.65,446.63 L480.23,446.63 L480.80,446.63 L481.38,446.63 L481.96,446.63 L482.53,446.63 L483.11,446.63 L483.69,446.63 L484.26,446.63 L484.84,446.63 L485.42,446.63 L486.00,446.63 L486.57,446.63 L487.15,446.63 L487.73,446.63 L488.30,446.63 L488.88,446.63 L489.46,446.63 L490.03,446.63 L490.61,446.63 L491.19,446.63 L491.76,446.63 L492.34,446.63 L492.92,446.63 L493.50,446.63 L494.07,446.63 L494.65,446.63 L495.23,446.63 L495.80,446.63 L496.38,446.63 L496.96,446.63 L497.53,446.63 L498.11,446.63 L498.69,446.63 L499.27,446.63 L499.84,446.63 L500.42,446.63 L501.00,446.63 L501.57,446.63 L502.15,446.63 L502.73,446.63 L503.30,446.63 L503.88,446.63 L504.46,446.63 L505.03,446.63 L505.61,446.63 L506.19,446.63 L506.77,446.63 L507.34,446.63 L507.92,446.63 L508.50,446.63 L509.07,446.63 L509.65,446.63 L510.23,446.63 L510.80,446.63 L511.38,446.63 L511.96,446.63 L512.53,446.63 L513.11,446.63 L513.69,446.63 L514.27,446.63 L514.84,446.63 L515.42,446.63 L516.00,446.63 L516.57,446.63 L517.15,446.63 L517.73,446.63 L518.30,446.63 L518.88,446.63 L519.46,446.63 L520.03,446.63 L520.61,446.63 L521.19,446.63 L521.77,446.63 L522.34,446.63 L522.92,446.63 L523.50,446.63 L524.07,446.63 L524.65,446.63 L525.23,446.63 L525.80,446.63 L526.38,446.63 L526.96,446.63 L527.54,446.63 L528.11,446.63 L528.69,446.63 L529.27,446.63 L529.84,446.63 L530.42,446.63 L531.00,446.63 L531.57,446.63 L532.15,446.63 L532.73,446.63 L533.30,446.63 L533.88,446.63 L534.46,446.63 L535.04,446.63 L535.61,446.63 L536.19,446.63 L536.77,446.63 L537.34,446.63 L537.92,446.63 L538.50,446.63 L539.07,446.63 L539.65,446.63 L540.23,446.63 L540.80,446.63 L541.38,446.63 L541.96,446.63 L542.54,446.63 L543.11,446.63 L543.69,446.63 L544.27,446.63 L544.84,446.63 L545.42,446.63 L546.00,446.63 L546.57,446.63 L547.15,446.63 L547.73,446.63 L548.30,446.63 L548.88,446.63 L549.46,446.63 L550.04,446.63 L550.61,446.63 L551.19,446.63 L551.77,446.63 L552.34,446.63 L552.92,446.63 L553.50,446.63 L554.07,446.63 L554.65,446.63 L555.23,446.63 L555.81,446.63 L556.38,446.63 L556.96,446.63 L557.54,446.63 L558.11,446.63 L558.69,446.63 L559.27,446.63 L559.84,446.63 L560.42,446.63 L561.00,446.63 L561.57,446.63 L562.15,446.63 L562.73,446.63 L563.31,446.63 L563.88,446.63 L564.46,446.63 L565.04,446.63 L565.61,446.63 L566.19,446.63 L566.77,446.63 L567.34,446.63 L567.92,446.63 L568.50,446.63 L569.07,446.63 L569.65,446.63 L570.23,446.63 L570.81,446.63 L571.38,446.63 L571.96,446.63 L572.54,446.63 L573.11,446.63 L573.69,446.63 L574.27,446.63 L574.84,446.63 L575.42,446.63 L576.00,446.63 L576.58,446.63 L577.15,446.63 L577.73,446.63 L578.31,446.63 L578.88,446.63 L579.46,446.63 L580.04,446.63 L580.61,446.63 L581.19,446.63 L581.77,446.63 L582.34,446.63 L582.92,446.63 L583.50,446.63 L584.08,446.63 L584.65,446.63 L585.23,446.63 L585.81,446.63 L586.38,446.63 L586.96,446.63 L587.54,446.63 L588.11,446.63 L588.69,446.63 L589.27,446.63 L589.84,446.63 L590.42,446.63 L591.00,446.63 L591.58,446.63 L592.15,446.63 L592.73,446.63 L593.31,446.63 L593.88,446.63 L594.46,446.63 L595.04,446.63 L595.61,446.63 L596.19,446.63 L596.77,446.63 L597.34,446.63 L597.92,446.63 L598.50,446.63 L599.08,446.63 L599.65,446.63 L600.23,446.63 L600.81,446.63 L601.38,446.63 L601.96,446.63 L602.54,446.63 L603.11,446.63 L603.69,446.63 L604.27,446.63 L604.85,446.63 L605.42,446.63 L606.00,446.63 L606.58,446.63 L607.15,446.63 L607.73,446.63 L608.31,446.63 L608.88,446.63 L609.46,446.63 L610.04,446.63 L610.61,446.63 L611.19,446.63 L611.77,446.63 L612.35,446.63 L612.92,446.63 L613.50,446.63 L614.08,446.63 L614.65,446.63 L615.23,446.63 L615.81,446.63 L616.38,446.63 L616.96,446.63 L617.54,446.63 L618.11,446.63 L618.69,446.63 L619.27,446.63 L619.85,446.63 L620.42,446.63 L621.00,446.63 L621.58,446.63 L622.15,446.63 L622.73,446.63 L623.31,446.63 L623.88,446.63 L624.46,446.63 L625.04,446.63 L625.61,446.63 L626.19,446.63 L626.77,446.63 L627.35,446.63 L627.92,446.63 L628.50,446.63 L629.08,446.63 L629.65,446.63 L630.23,446.63 L630.81,446.63 L631.38,446.63 L631.96,446.63 L632.54,446.63 L633.12,446.63 L633.69,446.63 L634.27,446.63 L634.85,446.63 L635.42,446.63 L636.00,446.63 L636.58,446.63 L637.15,446.63 L637.73,446.63 L638.31,446.63 L638.88,446.63 L639.46,446.63 L640.04,446.63 L640.62,446.63 L641.19,446.63 L641.77,446.63 L642.35,446.63 L642.92,446.63 L643.50,446.63 L644.08,446.63 L644.65,446.63 L645.23,446.63 L645.81,446.63 L646.38,446.63 L646.96,446.63 L647.54,446.63 L648.12,446.63 L648.69,446.63 L649.27,446.63 L649.85,446.63 L650.42,446.63 L651.00,446.63 L651.58,446.63 L652.15,446.63 L652.73,446.63 L653.31,446.63 L653.89,446.63 L654.46,446.63 L655.04,446.63 L655.62,446.63 L656.19,446.63 L656.77,446.63 L657.35,446.63 L657.92,446.63 L658.50,446.63 L659.08,446.63 L659.65,446.63 L660.23,446.63 L660.81,446.63 L661.39,446.63 L661.96,446.63 L662.54,446.63 L663.12,446.63 L663.69,446.63 L664.27,446.63 L664.85,446.63 L665.42,446.63 L666.00,446.63 L666.58,446.63 L667.15,446.63 L667.73,446.63 L668.31,446.63 L668.89,446.63 L669.46,446.63 L670.04,446.63 L670.62,446.63 L671.19,446.63 L671.77,446.63 L672.35,446.63 L672.92,446.63 L673.50,446.63 L674.08,446.63 L674.65,446.63 L675.23,446.63 L675.81,446.63 L676.39,446.63 L676.96,446.63 L677.54,446.63 L678.12,446.63 L678.69,446.63 L679.27,446.63 L679.85,446.63 L680.42,446.63 L681.00,446.63 L681.58,446.63 L682.16,446.63 L682.73,446.63 L683.31,446.63 L683.89,446.63 L684.46,446.63 L685.04,446.63 L685.62,446.63 L686.19,446.63 L686.77,446.63 L687.35,446.63 L687.92,446.63 L688.50,446.63 L689.08,446.63 L689.66,446.63 L690.23,446.63 L690.81,446.63 L691.39,446.63 L691.96,446.63 L692.54,446.63 L693.12,446.63 L693.69,446.63 L694.27,446.63 L694.85,446.63 L695.42,446.63 L696.00,446.63 L696.58,446.63 L697.16,446.63 L697.73,446.63 L698.31,446.63 L698.89,446.63 L699.46,446.63 L700.04,446.63 L700.62,446.63 L701.19,446.63 L701.77,446.63 L702.35,446.63 L702.92,446.63 L703.50,446.63 L704.08,446.63 L704.66,446.63 L705.23,446.63 L705.81,446.63 L706.39,446.63 L706.96,446.63 L707.54,446.63 L708.12,446.63 L708.69,446.63 L709.27,446.63 L709.85,446.63 L710.43,446.63 L711.00,446.63 L711.58,446.63 L712.16,446.63 L712.73,446.63 L713.31,446.63 L713.89,446.63 L714.46,446.63 L715.04,446.63 L715.62,446.63 L716.19,446.63 L716.77,446.63 L717.35,446.63 L717.93,446.63 L718.50,446.63 L719.08,446.63 L719.66,446.63 L720.23,446.63 L720.81,446.63 L721.39,446.63 L721.96,446.63 L722.54,446.63 L723.12,446.63 L723.69,446.63 L724.27,446.63 L724.85,446.63 L725.43,446.63 L726.00,446.63 L726.58,446.63 L727.16,446.63 L727.73,446.63 L728.31,446.63 L728.89,446.63 L729.46,446.63 L730.04,446.63 L730.62,446.63 L731.19,446.63 L731.77,446.63 L732.35,446.63 L732.93,446.63 L733.50,446.63 L734.08,446.63 L734.66,446.63 L735.23,446.63 L735.81,446.63 L736.39,446.63 L736.96,446.63 L737.54,446.63 L738.12,446.63 L738.70,446.63 L739.27,446.63 L739.85,446.63 L740.43,446.63 L741.00,446.63 L741.58,446.63 L742.16,446.63 L742.73,446.63 L743.31,446.63 L743.89,446.63 L744.46,446.63 L745.04,446.63 L745.62,446.63 L746.20,446.63 L746.77,446.63 L747.35,446.63 L747.93,446.63 L748.50,446.63 L749.08,446.63 L749.66,446.63 L750.23,446.63 L750.81,446.63 L751.39,446.63 L751.96,446.63 L752.54,446.63 L753.12,446.63 L753.70,446.63 L754.27,446.63 L754.85,446.63 L755.43,446.63 L756.00,446.63 L756.58,446.63 L757.16,446.63 L757.73,446.63 L758.31,446.63 L758.89,446.63 L759.47,446.63 L760.04,446.63 L760.62,446.63 L761.20,446.63 L761.77,446.63 L762.35,446.63 L762.93,446.63 L763.50,446.63 L764.08,446.63 L764.66,446.63 L765.23,446.63 L765.81,446.63 L766.39,446.63 L766.97,446.63 L767.54,446.63 L768.12,446.63 L768.70,446.63 L769.27,446.63 L769.85,446.63 L770.43,446.63 L771.00,446.63 L771.58,446.63 L772.16,446.63 L772.73,446.63 L773.31,446.63 L773.89,446.63 L774.47,446.63 L775.04,446.63 L775.62,446.63 L776.20,446.63 L776.77,446.63 L777.35,446.63 L777.93,446.63 L778.50,446.63 L779.08,446.63 L779.66,446.63 L780.23,446.63 L780.81,446.63 L781.39,446.63 L781.97,446.63 L782.54,446.63 L783.12,446.63 L783.70,446.63 L784.27,446.63 L784.85,446.63 L785.43,446.63 L786.00,446.63 L786.58,446.63 L787.16,446.63 L787.74,446.63 L788.31,446.63 L788.89,446.63 L789.47,446.63 L790.04,446.63 L790.62,446.63 L791.20,446.63 L791.77,446.63 L792.35,446.63 L792.93,446.63 L793.50,446.63 L794.08,446.63 L794.66,446.63 L795.24,446.63 L795.81,446.63 L796.39,446.63 L796.97,446.63 L797.54,446.63 L798.12,446.63 L798.70,446.63 L799.27,446.63 L799.85,446.63 L800.43,446.63 L801.00,446.63 L801.58,446.63 L802.16,446.63 L802.74,446.63 L803.31,446.63 L803.89,446.63 L804.47,446.63 L805.04,446.63 L805.62,446.63 L806.20,446.63 L806.77,446.63 L807.35,446.63 L807.93,446.63" fill="none" stroke="#4d8248" stroke-width="2.70"/>
<line x1="128.91" y1="336.30" x2="128.91" y2="353.70" stroke="#ce2629" stroke-width="2.60"/>
<line x1="121.31" y1="336.30" x2="136.51" y2="336.30" stroke="#ce2629" stroke-width="1.75"/>
<line x1="121.31" y1="353.70" x2="136.51" y2="353.70" stroke="#ce2629" stroke-width="1.75"/>
<line x1="148.88" y1="378.40" x2="148.88" y2="392.90" stroke="#ce2629" stroke-width="2.60"/>
<line x1="141.28" y1="378.40" x2="156.48" y2="378.40" stroke="#ce2629" stroke-width="1.75"/>
<line x1="141.28" y1="392.90" x2="156.48" y2="392.90" stroke="#ce2629" stroke-width="1.75"/>
<line x1="165.53" y1="414.30" x2="165.53" y2="431.80" stroke="#ce2629" stroke-width="2.60"/>
<line x1="157.93" y1="414.30" x2="173.13" y2="414.30" stroke="#ce2629" stroke-width="1.75"/>
<line x1="157.93" y1="431.80" x2="173.13" y2="431.80" stroke="#ce2629" stroke-width="1.75"/>
<line x1="182.17" y1="452.00" x2="182.17" y2="462.10" stroke="#ce2629" stroke-width="2.60"/>
<line x1="174.57" y1="452.00" x2="189.77" y2="452.00" stroke="#ce2629" stroke-width="1.75"/>
<line x1="174.57" y1="462.10" x2="189.77" y2="462.10" stroke="#ce2629" stroke-width="1.75"/>
<line x1="215.45" y1="458.30" x2="215.45" y2="467.20" stroke="#ce2629" stroke-width="2.60"/>
<line x1="207.85" y1="458.30" x2="223.05" y2="458.30" stroke="#ce2629" stroke-width="1.75"/>
<line x1="207.85" y1="467.20" x2="223.05" y2="467.20" stroke="#ce2629" stroke-width="1.75"/>
<line x1="248.74" y1="465.40" x2="248.74" y2="475.20" stroke="#ce2629" stroke-width="2.60"/>
<line x1="241.14" y1="465.40" x2="256.34" y2="465.40" stroke="#ce2629" stroke-width="1.75"/>
<line x1="241.14" y1="475.20" x2="256.34" y2="475.20" stroke="#ce2629" stroke-width="1.75"/>
<line x1="315.31" y1="464.80" x2="315.31" y2="474.80" stroke="#ce2629" stroke-width="2.60"/>
<line x1="307.71" y1="464.80" x2="322.91" y2="464.80" stroke="#ce2629" stroke-width="1.75"/>
<line x1="307.71" y1="474.80" x2="322.91" y2="474.80" stroke="#ce2629" stroke-width="1.75"/>
<line x1="381.88" y1="464.60" x2="381.88" y2="475.10" stroke="#ce2629" stroke-width="2.60"/>
<line x1="374.28" y1="464.60" x2="389.48" y2="464.60" stroke="#ce2629" stroke-width="1.75"/>
<line x1="374.28" y1="475.10" x2="389.48" y2="475.10" stroke="#ce2629" stroke-width="1.75"/>
<line x1="448.45" y1="463.30" x2="448.45" y2="473.10" stroke="#ce2629" stroke-width="2.60"/>
<line x1="440.85" y1="463.30" x2="456.05" y2="463.30" stroke="#ce2629" stroke-width="1.75"/>
<line x1="440.85" y1="473.10" x2="456.05" y2="473.10" stroke="#ce2629" stroke-width="1.75"/>
<line x1="515.02" y1="466.00" x2="515.02" y2="475.30" stroke="#ce2629" stroke-width="2.60"/>
<line x1="507.42" y1="466.00" x2="522.62" y2="466.00" stroke="#ce2629" stroke-width="1.75"/>
<line x1="507.42" y1="475.30" x2="522.62" y2="475.30" stroke="#ce2629" stroke-width="1.75"/>
<line x1="581.59" y1="465.10" x2="581.59" y2="475.30" stroke="#ce2629" stroke-width="2.60"/>
<line x1="573.99" y1="465.10" x2="589.19" y2="465.10" stroke="#ce2629" stroke-width="1.75"/>
<line x1="573.99" y1="475.30" x2="589.19" y2="475.30" stroke="#ce2629" stroke-width="1.75"/>
<line x1="648.16" y1="463.80" x2="648.16" y2="474.30" stroke="#ce2629" stroke-width="2.60"/>
<line x1="640.56" y1="463.80" x2="655.76" y2="463.80" stroke="#ce2629" stroke-width="1.75"/>
<line x1="640.56" y1="474.30" x2="655.76" y2="474.30" stroke="#ce2629" stroke-width="1.75"/>
<line x1="714.73" y1="463.80" x2="714.73" y2="473.80" stroke="#ce2629" stroke-width="2.60"/>
<line x1="707.13" y1="463.80" x2="722.33" y2="463.80" stroke="#ce2629" stroke-width="1.75"/>
<line x1="707.13" y1="473.80" x2="722.33" y2="473.80" stroke="#ce2629" stroke-width="1.75"/>
<line x1="781.30" y1="464.80" x2="781.30" y2="475.10" stroke="#ce2629" stroke-width="2.60"/>
<line x1="773.70" y1="464.80" x2="788.90" y2="464.80" stroke="#ce2629" stroke-width="1.75"/>
<line x1="773.70" y1="475.10" x2="788.90" y2="475.10" stroke="#ce2629" stroke-width="1.75"/>
<path d="M115.60,315.73 L116.18,317.40 L116.75,319.06 L117.33,320.71 L117.91,322.35 L118.48,323.98 L119.06,325.60 L119.64,327.21 L120.22,328.81 L120.79,330.40 L121.37,331.98 L121.95,333.55 L122.52,335.11 L123.10,336.66 L123.68,338.20 L124.25,339.73 L124.83,341.25 L125.41,342.76 L125.98,344.26 L126.56,345.75 L127.14,347.23 L127.72,348.70 L128.29,350.16 L128.87,351.61 L129.45,353.05 L130.02,354.48 L130.60,355.90 L131.18,357.30 L131.75,358.70 L132.33,360.09 L132.91,361.47 L133.49,362.83 L134.06,364.19 L134.64,365.54 L135.22,366.87 L135.79,368.20 L136.37,369.51 L136.95,370.82 L137.52,372.12 L138.10,373.40 L138.68,374.67 L139.25,375.94 L139.83,377.19 L140.41,378.44 L140.99,379.67 L141.56,380.89 L142.14,382.10 L142.72,383.31 L143.29,384.50 L143.87,385.68 L144.45,386.85 L145.02,388.01 L145.60,389.16 L146.18,390.30 L146.75,391.43 L147.33,392.55 L147.91,393.66 L148.49,394.76 L149.06,395.84 L149.64,396.92 L150.22,397.99 L150.79,399.04 L151.37,400.09 L151.95,401.13 L152.52,402.15 L153.10,403.17 L153.68,404.17 L154.25,405.17 L154.83,406.15 L155.41,407.13 L155.99,408.09 L156.56,409.05 L157.14,409.99 L157.72,410.92 L158.29,411.85 L158.87,412.76 L159.45,413.66 L160.02,414.55 L160.60,415.44 L161.18,416.31 L161.76,417.17 L162.33,418.02 L162.91,418.87 L163.49,419.70 L164.06,420.52 L164.64,421.33 L165.22,422.14 L165.79,422.93 L166.37,423.71 L166.95,424.49 L167.52,425.25 L168.10,426.00 L168.68,426.75 L169.26,427.48 L169.83,428.21 L170.41,428.93 L170.99,429.63 L171.56,430.33 L172.14,431.02 L172.72,431.70 L173.29,432.37 L173.87,433.03 L174.45,433.68 L175.02,434.32 L175.60,434.96 L176.18,435.58 L176.76,436.20 L177.33,436.80 L177.91,437.40 L178.49,437.99 L179.06,438.57 L179.64,439.14 L180.22,439.71 L180.79,440.26 L181.37,440.81 L181.95,441.35 L182.53,441.88 L183.10,442.40 L183.68,442.92 L184.26,443.43 L184.83,443.93 L185.41,444.42 L185.99,444.90 L186.56,445.38 L187.14,445.85 L187.72,446.31 L188.29,446.76 L188.87,447.21 L189.45,447.65 L190.03,448.08 L190.60,448.50 L191.18,448.92 L191.76,449.33 L192.33,449.74 L192.91,450.13 L193.49,450.53 L194.06,450.91 L194.64,451.29 L195.22,451.66 L195.79,452.02 L196.37,452.38 L196.95,452.73 L197.53,453.08 L198.10,453.42 L198.68,453.76 L199.26,454.08 L199.83,454.41 L200.41,454.72 L200.99,455.04 L201.56,455.34 L202.14,455.64 L202.72,455.94 L203.29,456.23 L203.87,456.51 L204.45,456.79 L205.03,457.06 L205.60,457.33 L206.18,457.60 L206.76,457.86 L207.33,458.11 L207.91,458.36 L208.49,458.61 L209.06,458.85 L209.64,459.08 L210.22,459.31 L210.80,459.54 L211.37,459.77 L211.95,459.98 L212.53,460.20 L213.10,460.41 L213.68,460.62 L214.26,460.82 L214.83,461.02 L215.41,461.21 L215.99,461.40 L216.56,461.59 L217.14,461.77 L217.72,461.96 L218.30,462.13 L218.87,462.31 L219.45,462.48 L220.03,462.64 L220.60,462.81 L221.18,462.97 L221.76,463.12 L222.33,463.28 L222.91,463.43 L223.49,463.57 L224.06,463.72 L224.64,463.86 L225.22,464.00 L225.80,464.14 L226.37,464.27 L226.95,464.40 L227.53,464.53 L228.10,464.66 L228.68,464.78 L229.26,464.90 L229.83,465.02 L230.41,465.13 L230.99,465.25 L231.56,465.36 L232.14,465.47 L232.72,465.57 L233.30,465.68 L233.87,465.78 L234.45,465.88 L235.03,465.98 L235.60,466.08 L236.18,466.17 L236.76,466.26 L237.33,466.35 L237.91,466.44 L238.49,466.53 L239.07,466.61 L239.64,466.70 L240.22,466.78 L240.80,466.86 L241.37,466.94 L241.95,467.01 L242.53,467.09 L243.10,467.16 L243.68,467.23 L244.26,467.31 L244.83,467.37 L245.41,467.44 L245.99,467.51 L246.57,467.57 L247.14,467.64 L247.72,467.70 L248.30,467.76 L248.87,467.82 L249.45,467.88 L250.03,467.93 L250.60,467.99 L251.18,468.04 L251.76,468.10 L252.33,468.15 L252.91,468.20 L253.49,468.25 L254.07,468.30 L254.64,468.35 L255.22,468.40 L255.80,468.44 L256.37,468.49 L256.95,468.53 L257.53,468.57 L258.10,468.62 L258.68,468.66 L259.26,468.70 L259.83,468.74 L260.41,468.78 L260.99,468.81 L261.57,468.85 L262.14,468.89 L262.72,468.92 L263.30,468.96 L263.87,468.99 L264.45,469.03 L265.03,469.06 L265.60,469.09 L266.18,469.12 L266.76,469.15 L267.34,469.18 L267.91,469.21 L268.49,469.24 L269.07,469.27 L269.64,469.30 L270.22,469.32 L270.80,469.35 L271.37,469.38 L271.95,469.40 L272.53,469.43 L273.10,469.45 L273.68,469.47 L274.26,469.50 L274.84,469.52 L275.41,469.54 L275.99,469.56 L276.57,469.58 L277.14,469.60 L277.72,469.62 L278.30,469.64 L278.87,469.66 L279.45,469.68 L280.03,469.70 L280.60,469.72 L281.18,469.74 L281.76,469.76 L282.34,469.77 L282.91,469.79 L283.49,469.81 L284.07,469.82 L284.64,469.84 L285.22,469.85 L285.80,469.87 L286.37,469.88 L286.95,469.90 L287.53,469.91 L288.11,469.92 L288.68,469.94 L289.26,469.95 L289.84,469.96 L290.41,469.98 L290.99,469.99 L291.57,470.00 L292.14,470.01 L292.72,470.02 L293.30,470.04 L293.87,470.05 L294.45,470.06 L295.03,470.07 L295.61,470.08 L296.18,470.09 L296.76,470.10 L297.34,470.11 L297.91,470.12 L298.49,470.13 L299.07,470.14 L299.64,470.14 L300.22,470.15 L300.80,470.16 L301.37,470.17 L301.95,470.18 L302.53,470.19 L303.11,470.19 L303.68,470.20 L304.26,470.21 L304.84,470.22 L305.41,470.22 L305.99,470.23 L306.57,470.24 L307.14,470.24 L307.72,470.25 L308.30,470.26 L308.87,470.26 L309.45,470.27 L310.03,470.27 L310.61,470.28 L311.18,470.29 L311.76,470.29 L312.34,470.30 L312.91,470.30 L313.49,470.31 L314.07,470.31 L314.64,470.32 L315.22,470.32 L315.80,470.33 L316.38,470.33 L316.95,470.34 L317.53,470.34 L318.11,470.35 L318.68,470.35 L319.26,470.35 L319.84,470.36 L320.41,470.36 L320.99,470.37 L321.57,470.37 L322.14,470.37 L322.72,470.38 L323.30,470.38 L323.88,470.39 L324.45,470.39 L325.03,470.39 L325.61,470.40 L326.18,470.40 L326.76,470.40 L327.34,470.41 L327.91,470.41 L328.49,470.41 L329.07,470.41 L329.64,470.42 L330.22,470.42 L330.80,470.42 L331.38,470.43 L331.95,470.43 L332.53,470.43 L333.11,470.43 L333.68,470.44 L334.26,470.44 L334.84,470.44 L335.41,470.44 L335.99,470.44 L336.57,470.45 L337.14,470.45 L337.72,470.45 L338.30,470.45 L338.88,470.45 L339.45,470.46 L340.03,470.46 L340.61,470.46 L341.18,470.46 L341.76,470.46 L342.34,470.47 L342.91,470.47 L343.49,470.47 L344.07,470.47 L344.65,470.47 L345.22,470.47 L345.80,470.48 L346.38,470.48 L346.95,470.48 L347.53,470.48 L348.11,470.48 L348.68,470.48 L349.26,470.48 L349.84,470.49 L350.41,470.49 L350.99,470.49 L351.57,470.49 L352.15,470.49 L352.72,470.49 L353.30,470.49 L353.88,470.49 L354.45,470.50 L355.03,470.50 L355.61,470.50 L356.18,470.50 L356.76,470.50 L357.34,470.50 L357.91,470.50 L358.49,470.50 L359.07,470.50 L359.65,470.50 L360.22,470.51 L360.80,470.51 L361.38,470.51 L361.95,470.51 L362.53,470.51 L363.11,470.51 L363.68,470.51 L364.26,470.51 L364.84,470.51 L365.42,470.51 L365.99,470.51 L366.57,470.51 L367.15,470.51 L367.72,470.52 L368.30,470.52 L368.88,470.52 L369.45,470.52 L370.03,470.52 L370.61,470.52 L371.18,470.52 L371.76,470.52 L372.34,470.52 L372.92,470.52 L373.49,470.52 L374.07,470.52 L374.65,470.52 L375.22,470.52 L375.80,470.52 L376.38,470.52 L376.95,470.52 L377.53,470.52 L378.11,470.52 L378.68,470.53 L379.26,470.53 L379.84,470.53 L380.42,470.53 L380.99,470.53 L381.57,470.53 L382.15,470.53 L382.72,470.53 L383.30,470.53 L383.88,470.53 L384.45,470.53 L385.03,470.53 L385.61,470.53 L386.18,470.53 L386.76,470.53 L387.34,470.53 L387.92,470.53 L388.49,470.53 L389.07,470.53 L389.65,470.53 L390.22,470.53 L390.80,470.53 L391.38,470.53 L391.95,470.53 L392.53,470.53 L393.11,470.53 L393.69,470.53 L394.26,470.53 L394.84,470.53 L395.42,470.53 L395.99,470.53 L396.57,470.54 L397.15,470.54 L397.72,470.54 L398.30,470.54 L398.88,470.54 L399.45,470.54 L400.03,470.54 L400.61,470.54 L401.19,470.54 L401.76,470.54 L402.34,470.54 L402.92,470.54 L403.49,470.54 L404.07,470.54 L404.65,470.54 L405.22,470.54 L405.80,470.54 L406.38,470.54 L406.95,470.54 L407.53,470.54 L408.11,470.54 L408.69,470.54 L409.26,470.54 L409.84,470.54 L410.42,470.54 L410.99,470.54 L411.57,470.54 L412.15,470.54 L412.72,470.54 L413.30,470.54 L413.88,470.54 L414.45,470.54 L415.03,470.54 L415.61,470.54 L416.19,470.54 L416.76,470.54 L417.34,470.54 L417.92,470.54 L418.49,470.54 L419.07,470.54 L419.65,470.54 L420.22,470.54 L420.80,470.54 L421.38,470.54 L421.96,470.54 L422.53,470.54 L423.11,470.54 L423.69,470.54 L424.26,470.54 L424.84,470.54 L425.42,470.54 L425.99,470.54 L426.57,470.54 L427.15,470.54 L427.72,470.54 L428.30,470.54 L428.88,470.54 L429.46,470.54 L430.03,470.54 L430.61,470.54 L431.19,470.54 L431.76,470.54 L432.34,470.54 L432.92,470.54 L433.49,470.54 L434.07,470.54 L434.65,470.54 L435.22,470.54 L435.80,470.54 L436.38,470.54 L436.96,470.54 L437.53,470.54 L438.11,470.54 L438.69,470.54 L439.26,470.54 L439.84,470.54 L440.42,470.54 L440.99,470.54 L441.57,470.54 L442.15,470.54 L442.72,470.54 L443.30,470.54 L443.88,470.54 L444.46,470.54 L445.03,470.54 L445.61,470.54 L446.19,470.54 L446.76,470.54 L447.34,470.54 L447.92,470.54 L448.49,470.54 L449.07,470.54 L449.65,470.54 L450.23,470.54 L450.80,470.54 L451.38,470.54 L451.96,470.54 L452.53,470.54 L453.11,470.54 L453.69,470.54 L454.26,470.54 L454.84,470.54 L455.42,470.54 L455.99,470.54 L456.57,470.54 L457.15,470.54 L457.73,470.54 L458.30,470.54 L458.88,470.54 L459.46,470.54 L460.03,470.54 L460.61,470.54 L461.19,470.54 L461.76,470.54 L462.34,470.54 L462.92,470.54 L463.49,470.54 L464.07,470.54 L464.65,470.54 L465.23,470.54 L465.80,470.54 L466.38,470.54 L466.96,470.54 L467.53,470.54 L468.11,470.54 L468.69,470.54 L469.26,470.54 L469.84,470.54 L470.42,470.54 L471.00,470.54 L471.57,470.54 L472.15,470.54 L472.73,470.54 L473.30,470.54 L473.88,470.54 L474.46,470.54 L475.03,470.54 L475.61,470.54 L476.19,470.54 L476.76,470.54 L477.34,470.54 L477.92,470.54 L478.50,470.54 L479.07,470.54 L479.65,470.54 L480.23,470.54 L480.80,470.54 L481.38,470.54 L481.96,470.54 L482.53,470.54 L483.11,470.54 L483.69,470.54 L484.26,470.54 L484.84,470.54 L485.42,470.54 L486.00,470.54 L486.57,470.54 L487.15,470.54 L487.73,470.54 L488.30,470.54 L488.88,470.54 L489.46,470.54 L490.03,470.54 L490.61,470.54 L491.19,470.54 L491.76,470.54 L492.34,470.54 L492.92,470.54 L493.50,470.54 L494.07,470.54 L494.65,470.54 L495.23,470.54 L495.80,470.54 L496.38,470.54 L496.96,470.54 L497.53,470.54 L498.11,470.54 L498.69,470.54 L499.27,470.54 L499.84,470.54 L500.42,470.54 L501.00,470.54 L501.57,470.54 L502.15,470.54 L502.73,470.54 L503.30,470.54 L503.88,470.54 L504.46,470.54 L505.03,470.54 L505.61,470.54 L506.19,470.54 L506.77,470.54 L507.34,470.54 L507.92,470.54 L508.50,470.54 L509.07,470.54 L509.65,470.54 L510.23,470.54 L510.80,470.54 L511.38,470.54 L511.96,470.54 L512.53,470.54 L513.11,470.54 L513.69,470.54 L514.27,470.54 L514.84,470.54 L515.42,470.54 L516.00,470.54 L516.57,470.54 L517.15,470.54 L517.73,470.54 L518.30,470.54 L518.88,470.54 L519.46,470.54 L520.03,470.54 L520.61,470.54 L521.19,470.54 L521.77,470.55 L522.34,470.55 L522.92,470.55 L523.50,470.55 L524.07,470.55 L524.65,470.55 L525.23,470.55 L525.80,470.55 L526.38,470.55 L526.96,470.55 L527.54,470.55 L528.11,470.55 L528.69,470.55 L529.27,470.55 L529.84,470.55 L530.42,470.55 L531.00,470.55 L531.57,470.55 L532.15,470.55 L532.73,470.55 L533.30,470.55 L533.88,470.55 L534.46,470.55 L535.04,470.55 L535.61,470.55 L536.19,470.55 L536.77,470.55 L537.34,470.55 L537.92,470.55 L538.50,470.55 L539.07,470.55 L539.65,470.55 L540.23,470.55 L540.80,470.55 L541.38,470.55 L541.96,470.55 L542.54,470.55 L543.11,470.55 L543.69,470.55 L544.27,470.55 L544.84,470.55 L545.42,470.55 L546.00,470.55 L546.57,470.55 L547.15,470.55 L547.73,470.55 L548.30,470.55 L548.88,470.55 L549.46,470.55 L550.04,470.55 L550.61,470.55 L551.19,470.55 L551.77,470.55 L552.34,470.55 L552.92,470.55 L553.50,470.55 L554.07,470.55 L554.65,470.55 L555.23,470.55 L555.81,470.55 L556.38,470.55 L556.96,470.55 L557.54,470.55 L558.11,470.55 L558.69,470.55 L559.27,470.55 L559.84,470.55 L560.42,470.55 L561.00,470.55 L561.57,470.55 L562.15,470.55 L562.73,470.55 L563.31,470.55 L563.88,470.55 L564.46,470.55 L565.04,470.55 L565.61,470.55 L566.19,470.55 L566.77,470.55 L567.34,470.55 L567.92,470.55 L568.50,470.55 L569.07,470.55 L569.65,470.55 L570.23,470.55 L570.81,470.55 L571.38,470.55 L571.96,470.55 L572.54,470.55 L573.11,470.55 L573.69,470.55 L574.27,470.55 L574.84,470.55 L575.42,470.55 L576.00,470.55 L576.58,470.55 L577.15,470.55 L577.73,470.55 L578.31,470.55 L578.88,470.55 L579.46,470.55 L580.04,470.55 L580.61,470.55 L581.19,470.55 L581.77,470.55 L582.34,470.55 L582.92,470.55 L583.50,470.55 L584.08,470.55 L584.65,470.55 L585.23,470.55 L585.81,470.55 L586.38,470.55 L586.96,470.55 L587.54,470.55 L588.11,470.55 L588.69,470.55 L589.27,470.55 L589.84,470.55 L590.42,470.55 L591.00,470.55 L591.58,470.55 L592.15,470.55 L592.73,470.55 L593.31,470.55 L593.88,470.55 L594.46,470.55 L595.04,470.55 L595.61,470.55 L596.19,470.55 L596.77,470.55 L597.34,470.55 L597.92,470.55 L598.50,470.55 L599.08,470.55 L599.65,470.55 L600.23,470.55 L600.81,470.55 L601.38,470.55 L601.96,470.55 L602.54,470.55 L603.11,470.55 L603.69,470.55 L604.27,470.55 L604.85,470.55 L605.42,470.55 L606.00,470.55 L606.58,470.55 L607.15,470.55 L607.73,470.55 L608.31,470.55 L608.88,470.55 L609.46,470.55 L610.04,470.55 L610.61,470.55 L611.19,470.55 L611.77,470.55 L612.35,470.55 L612.92,470.55 L613.50,470.55 L614.08,470.55 L614.65,470.55 L615.23,470.55 L615.81,470.55 L616.38,470.55 L616.96,470.55 L617.54,470.55 L618.11,470.55 L618.69,470.55 L619.27,470.55 L619.85,470.55 L620.42,470.55 L621.00,470.55 L621.58,470.55 L622.15,470.55 L622.73,470.55 L623.31,470.55 L623.88,470.55 L624.46,470.55 L625.04,470.55 L625.61,470.55 L626.19,470.55 L626.77,470.55 L627.35,470.55 L627.92,470.55 L628.50,470.55 L629.08,470.55 L629.65,470.55 L630.23,470.55 L630.81,470.55 L631.38,470.55 L631.96,470.55 L632.54,470.55 L633.12,470.55 L633.69,470.55 L634.27,470.55 L634.85,470.55 L635.42,470.55 L636.00,470.55 L636.58,470.55 L637.15,470.55 L637.73,470.55 L638.31,470.55 L638.88,470.55 L639.46,470.55 L640.04,470.55 L640.62,470.55 L641.19,470.55 L641.77,470.55 L642.35,470.55 L642.92,470.55 L643.50,470.55 L644.08,470.55 L644.65,470.55 L645.23,470.55 L645.81,470.55 L646.38,470.55 L646.96,470.55 L647.54,470.55 L648.12,470.55 L648.69,470.55 L649.27,470.55 L649.85,470.55 L650.42,470.55 L651.00,470.55 L651.58,470.55 L652.15,470.55 L652.73,470.55 L653.31,470.55 L653.89,470.55 L654.46,470.55 L655.04,470.55 L655.62,470.55 L656.19,470.55 L656.77,470.55 L657.35,470.55 L657.92,470.55 L658.50,470.55 L659.08,470.55 L659.65,470.55 L660.23,470.55 L660.81,470.55 L661.39,470.55 L661.96,470.55 L662.54,470.55 L663.12,470.55 L663.69,470.55 L664.27,470.55 L664.85,470.55 L665.42,470.55 L666.00,470.55 L666.58,470.55 L667.15,470.55 L667.73,470.55 L668.31,470.55 L668.89,470.55 L669.46,470.55 L670.04,470.55 L670.62,470.55 L671.19,470.55 L671.77,470.55 L672.35,470.55 L672.92,470.55 L673.50,470.55 L674.08,470.55 L674.65,470.55 L675.23,470.55 L675.81,470.55 L676.39,470.55 L676.96,470.55 L677.54,470.55 L678.12,470.55 L678.69,470.55 L679.27,470.55 L679.85,470.55 L680.42,470.55 L681.00,470.55 L681.58,470.55 L682.16,470.55 L682.73,470.55 L683.31,470.55 L683.89,470.55 L684.46,470.55 L685.04,470.55 L685.62,470.55 L686.19,470.55 L686.77,470.55 L687.35,470.55 L687.92,470.55 L688.50,470.55 L689.08,470.55 L689.66,470.55 L690.23,470.55 L690.81,470.55 L691.39,470.55 L691.96,470.55 L692.54,470.55 L693.12,470.55 L693.69,470.55 L694.27,470.55 L694.85,470.55 L695.42,470.55 L696.00,470.55 L696.58,470.55 L697.16,470.55 L697.73,470.55 L698.31,470.55 L698.89,470.55 L699.46,470.55 L700.04,470.55 L700.62,470.55 L701.19,470.55 L701.77,470.55 L702.35,470.55 L702.92,470.55 L703.50,470.55 L704.08,470.55 L704.66,470.55 L705.23,470.55 L705.81,470.55 L706.39,470.55 L706.96,470.55 L707.54,470.55 L708.12,470.55 L708.69,470.55 L709.27,470.55 L709.85,470.55 L710.43,470.55 L711.00,470.55 L711.58,470.55 L712.16,470.55 L712.73,470.55 L713.31,470.55 L713.89,470.55 L714.46,470.55 L715.04,470.55 L715.62,470.55 L716.19,470.55 L716.77,470.55 L717.35,470.55 L717.93,470.55 L718.50,470.55 L719.08,470.55 L719.66,470.55 L720.23,470.55 L720.81,470.55 L721.39,470.55 L721.96,470.55 L722.54,470.55 L723.12,470.55 L723.69,470.55 L724.27,470.55 L724.85,470.55 L725.43,470.55 L726.00,470.55 L726.58,470.55 L727.16,470.55 L727.73,470.55 L728.31,470.55 L728.89,470.55 L729.46,470.55 L730.04,470.55 L730.62,470.55 L731.19,470.55 L731.77,470.55 L732.35,470.55 L732.93,470.55 L733.50,470.55 L734.08,470.55 L734.66,470.55 L735.23,470.55 L735.81,470.55 L736.39,470.55 L736.96,470.55 L737.54,470.55 L738.12,470.55 L738.70,470.55 L739.27,470.55 L739.85,470.55 L740.43,470.55 L741.00,470.55 L741.58,470.55 L742.16,470.55 L742.73,470.55 L743.31,470.55 L743.89,470.55 L744.46,470.55 L745.04,470.55 L745.62,470.55 L746.20,470.55 L746.77,470.55 L747.35,470.55 L747.93,470.55 L748.50,470.55 L749.08,470.55 L749.66,470.55 L750.23,470.55 L750.81,470.55 L751.39,470.55 L751.96,470.55 L752.54,470.55 L753.12,470.55 L753.70,470.55 L754.27,470.55 L754.85,470.55 L755.43,470.55 L756.00,470.55 L756.58,470.55 L757.16,470.55 L757.73,470.55 L758.31,470.55 L758.89,470.55 L759.47,470.55 L760.04,470.55 L760.62,470.55 L761.20,470.55 L761.77,470.55 L762.35,470.55 L762.93,470.55 L763.50,470.55 L764.08,470.55 L764.66,470.55 L765.23,470.55 L765.81,470.55 L766.39,470.55 L766.97,470.55 L767.54,470.55 L768.12,470.55 L768.70,470.55 L769.27,470.55 L769.85,470.55 L770.43,470.55 L771.00,470.55 L771.58,470.55 L772.16,470.55 L772.73,470.55 L773.31,470.55 L773.89,470.55 L774.47,470.55 L775.04,470.55 L775.62,470.55 L776.20,470.55 L776.77,470.55 L777.35,470.55 L777.93,470.55 L778.50,470.55 L779.08,470.55 L779.66,470.55 L780.23,470.55 L780.81,470.55 L781.39,470.55 L781.97,470.55 L782.54,470.55 L783.12,470.55 L783.70,470.55 L784.27,470.55 L784.85,470.55 L785.43,470.55 L786.00,470.55 L786.58,470.55 L787.16,470.55 L787.74,470.55 L788.31,470.55 L788.89,470.55 L789.47,470.55 L790.04,470.55 L790.62,470.55 L791.20,470.55 L791.77,470.55 L792.35,470.55 L792.93,470.55 L793.50,470.55 L794.08,470.55 L794.66,470.55 L795.24,470.55 L795.81,470.55 L796.39,470.55 L796.97,470.55 L797.54,470.55 L798.12,470.55 L798.70,470.55 L799.27,470.55 L799.85,470.55 L800.43,470.55 L801.00,470.55 L801.58,470.55 L802.16,470.55 L802.74,470.55 L803.31,470.55 L803.89,470.55 L804.47,470.55 L805.04,470.55 L805.62,470.55 L806.20,470.55 L806.77,470.55 L807.35,470.55 L807.93,470.55" fill="none" stroke="#ce2629" stroke-width="2.70" stroke-dasharray="10.15 4.45" stroke-dashoffset="11.94"/>
<line x1="122.26" y1="343.80" x2="122.26" y2="357.20" stroke="#8e4094" stroke-width="2.60"/>
<line x1="114.66" y1="343.80" x2="129.86" y2="343.80" stroke="#8e4094" stroke-width="1.75"/>
<line x1="114.66" y1="357.20" x2="129.86" y2="357.20" stroke="#8e4094" stroke-width="1.75"/>
<line x1="128.91" y1="397.20" x2="128.91" y2="415.90" stroke="#8e4094" stroke-width="2.60"/>
<line x1="121.31" y1="397.20" x2="136.51" y2="397.20" stroke="#8e4094" stroke-width="1.75"/>
<line x1="121.31" y1="415.90" x2="136.51" y2="415.90" stroke="#8e4094" stroke-width="1.75"/>
<line x1="135.57" y1="433.70" x2="135.57" y2="444.80" stroke="#8e4094" stroke-width="2.60"/>
<line x1="127.97" y1="433.70" x2="143.17" y2="433.70" stroke="#8e4094" stroke-width="1.75"/>
<line x1="127.97" y1="444.80" x2="143.17" y2="444.80" stroke="#8e4094" stroke-width="1.75"/>
<line x1="148.88" y1="439.00" x2="148.88" y2="449.10" stroke="#8e4094" stroke-width="2.60"/>
<line x1="141.28" y1="439.00" x2="156.48" y2="439.00" stroke="#8e4094" stroke-width="1.75"/>
<line x1="141.28" y1="449.10" x2="156.48" y2="449.10" stroke="#8e4094" stroke-width="1.75"/>
<line x1="165.53" y1="441.60" x2="165.53" y2="451.40" stroke="#8e4094" stroke-width="2.60"/>
<line x1="157.93" y1="441.60" x2="173.13" y2="441.60" stroke="#8e4094" stroke-width="1.75"/>
<line x1="157.93" y1="451.40" x2="173.13" y2="451.40" stroke="#8e4094" stroke-width="1.75"/>
<line x1="182.17" y1="442.00" x2="182.17" y2="451.40" stroke="#8e4094" stroke-width="2.60"/>
<line x1="174.57" y1="442.00" x2="189.77" y2="442.00" stroke="#8e4094" stroke-width="1.75"/>
<line x1="174.57" y1="451.40" x2="189.77" y2="451.40" stroke="#8e4094" stroke-width="1.75"/>
<line x1="215.45" y1="443.20" x2="215.45" y2="453.00" stroke="#8e4094" stroke-width="2.60"/>
<line x1="207.85" y1="443.20" x2="223.05" y2="443.20" stroke="#8e4094" stroke-width="1.75"/>
<line x1="207.85" y1="453.00" x2="223.05" y2="453.00" stroke="#8e4094" stroke-width="1.75"/>
<line x1="248.74" y1="441.40" x2="248.74" y2="452.60" stroke="#8e4094" stroke-width="2.60"/>
<line x1="241.14" y1="441.40" x2="256.34" y2="441.40" stroke="#8e4094" stroke-width="1.75"/>
<line x1="241.14" y1="452.60" x2="256.34" y2="452.60" stroke="#8e4094" stroke-width="1.75"/>
<line x1="315.31" y1="441.60" x2="315.31" y2="450.80" stroke="#8e4094" stroke-width="2.60"/>
<line x1="307.71" y1="441.60" x2="322.91" y2="441.60" stroke="#8e4094" stroke-width="1.75"/>
<line x1="307.71" y1="450.80" x2="322.91" y2="450.80" stroke="#8e4094" stroke-width="1.75"/>
<line x1="381.88" y1="443.30" x2="381.88" y2="454.20" stroke="#8e4094" stroke-width="2.60"/>
<line x1="374.28" y1="443.30" x2="389.48" y2="443.30" stroke="#8e4094" stroke-width="1.75"/>
<line x1="374.28" y1="454.20" x2="389.48" y2="454.20" stroke="#8e4094" stroke-width="1.75"/>
<line x1="448.45" y1="442.50" x2="448.45" y2="453.10" stroke="#8e4094" stroke-width="2.60"/>
<line x1="440.85" y1="442.50" x2="456.05" y2="442.50" stroke="#8e4094" stroke-width="1.75"/>
<line x1="440.85" y1="453.10" x2="456.05" y2="453.10" stroke="#8e4094" stroke-width="1.75"/>
<line x1="515.02" y1="440.90" x2="515.02" y2="451.20" stroke="#8e4094" stroke-width="2.60"/>
<line x1="507.42" y1="440.90" x2="522.62" y2="440.90" stroke="#8e4094" stroke-width="1.75"/>
<line x1="507.42" y1="451.20" x2="522.62" y2="451.20" stroke="#8e4094" stroke-width="1.75"/>
<line x1="581.59" y1="442.00" x2="581.59" y2="451.90" stroke="#8e4094" stroke-width="2.60"/>
<line x1="573.99" y1="442.00" x2="589.19" y2="442.00" stroke="#8e4094" stroke-width="1.75"/>
<line x1="573.99" y1="451.90" x2="589.19" y2="451.90" stroke="#8e4094" stroke-width="1.75"/>
<line x1="648.16" y1="440.50" x2="648.16" y2="451.40" stroke="#8e4094" stroke-width="2.60"/>
<line x1="640.56" y1="440.50" x2="655.76" y2="440.50" stroke="#8e4094" stroke-width="1.75"/>
<line x1="640.56" y1="451.40" x2="655.76" y2="451.40" stroke="#8e4094" stroke-width="1.75"/>
<path d="M115.60,316.55 L116.18,321.43 L116.75,326.25 L117.33,331.01 L117.91,335.70 L118.48,340.31 L119.06,344.84 L119.64,349.30 L120.22,353.67 L120.79,357.94 L121.37,362.13 L121.95,366.21 L122.52,370.19 L123.10,374.07 L123.68,377.84 L124.25,381.49 L124.83,385.03 L125.41,388.45 L125.98,391.75 L126.56,394.93 L127.14,397.99 L127.72,400.92 L128.29,403.73 L128.87,406.42 L129.45,408.98 L130.02,411.42 L130.60,413.74 L131.18,415.94 L131.75,418.02 L132.33,419.99 L132.91,421.84 L133.49,423.59 L134.06,425.24 L134.64,426.78 L135.22,428.23 L135.79,429.59 L136.37,430.86 L136.95,432.04 L137.52,433.15 L138.10,434.17 L138.68,435.13 L139.25,436.02 L139.83,436.85 L140.41,437.61 L140.99,438.32 L141.56,438.98 L142.14,439.58 L142.72,440.15 L143.29,440.67 L143.87,441.14 L144.45,441.59 L145.02,441.99 L145.60,442.37 L146.18,442.72 L146.75,443.04 L147.33,443.33 L147.91,443.60 L148.49,443.85 L149.06,444.08 L149.64,444.29 L150.22,444.48 L150.79,444.66 L151.37,444.82 L151.95,444.97 L152.52,445.11 L153.10,445.23 L153.68,445.35 L154.25,445.45 L154.83,445.55 L155.41,445.64 L155.99,445.72 L156.56,445.80 L157.14,445.87 L157.72,445.93 L158.29,445.99 L158.87,446.04 L159.45,446.09 L160.02,446.14 L160.60,446.18 L161.18,446.21 L161.76,446.25 L162.33,446.28 L162.91,446.31 L163.49,446.34 L164.06,446.36 L164.64,446.38 L165.22,446.40 L165.79,446.42 L166.37,446.44 L166.95,446.45 L167.52,446.47 L168.10,446.48 L168.68,446.49 L169.26,446.51 L169.83,446.52 L170.41,446.52 L170.99,446.53 L171.56,446.54 L172.14,446.55 L172.72,446.55 L173.29,446.56 L173.87,446.57 L174.45,446.57 L175.02,446.58 L175.60,446.58 L176.18,446.58 L176.76,446.59 L177.33,446.59 L177.91,446.59 L178.49,446.60 L179.06,446.60 L179.64,446.60 L180.22,446.60 L180.79,446.61 L181.37,446.61 L181.95,446.61 L182.53,446.61 L183.10,446.61 L183.68,446.61 L184.26,446.61 L184.83,446.62 L185.41,446.62 L185.99,446.62 L186.56,446.62 L187.14,446.62 L187.72,446.62 L188.29,446.62 L188.87,446.62 L189.45,446.62 L190.03,446.62 L190.60,446.62 L191.18,446.62 L191.76,446.62 L192.33,446.62 L192.91,446.62 L193.49,446.62 L194.06,446.62 L194.64,446.62 L195.22,446.62 L195.79,446.62 L196.37,446.62 L196.95,446.62 L197.53,446.62 L198.10,446.63 L198.68,446.63 L199.26,446.63 L199.83,446.63 L200.41,446.63 L200.99,446.63 L201.56,446.63 L202.14,446.63 L202.72,446.63 L203.29,446.63 L203.87,446.63 L204.45,446.63 L205.03,446.63 L205.60,446.63 L206.18,446.63 L206.76,446.63 L207.33,446.63 L207.91,446.63 L208.49,446.63 L209.06,446.63 L209.64,446.63 L210.22,446.63 L210.80,446.63 L211.37,446.63 L211.95,446.63 L212.53,446.63 L213.10,446.63 L213.68,446.63 L214.26,446.63 L214.83,446.63 L215.41,446.63 L215.99,446.63 L216.56,446.63 L217.14,446.63 L217.72,446.63 L218.30,446.63 L218.87,446.63 L219.45,446.63 L220.03,446.63 L220.60,446.63 L221.18,446.63 L221.76,446.63 L222.33,446.63 L222.91,446.63 L223.49,446.63 L224.06,446.63 L224.64,446.63 L225.22,446.63 L225.80,446.63 L226.37,446.63 L226.95,446.63 L227.53,446.63 L228.10,446.63 L228.68,446.63 L229.26,446.63 L229.83,446.63 L230.41,446.63 L230.99,446.63 L231.56,446.63 L232.14,446.63 L232.72,446.63 L233.30,446.63 L233.87,446.63 L234.45,446.63 L235.03,446.63 L235.60,446.63 L236.18,446.63 L236.76,446.63 L237.33,446.63 L237.91,446.63 L238.49,446.63 L239.07,446.63 L239.64,446.63 L240.22,446.63 L240.80,446.63 L241.37,446.63 L241.95,446.63 L242.53,446.63 L243.10,446.63 L243.68,446.63 L244.26,446.63 L244.83,446.63 L245.41,446.63 L245.99,446.63 L246.57,446.63 L247.14,446.63 L247.72,446.63 L248.30,446.63 L248.87,446.63 L249.45,446.63 L250.03,446.63 L250.60,446.63 L251.18,446.63 L251.76,446.63 L252.33,446.63 L252.91,446.63 L253.49,446.63 L254.07,446.63 L254.64,446.63 L255.22,446.63 L255.80,446.63 L256.37,446.63 L256.95,446.63 L257.53,446.63 L258.10,446.63 L258.68,446.63 L259.26,446.63 L259.83,446.63 L260.41,446.63 L260.99,446.63 L261.57,446.63 L262.14,446.63 L262.72,446.63 L263.30,446.63 L263.87,446.63 L264.45,446.63 L265.03,446.63 L265.60,446.63 L266.18,446.63 L266.76,446.63 L267.34,446.63 L267.91,446.63 L268.49,446.63 L269.07,446.63 L269.64,446.63 L270.22,446.63 L270.80,446.63 L271.37,446.63 L271.95,446.63 L272.53,446.63 L273.10,446.63 L273.68,446.63 L274.26,446.63 L274.84,446.63 L275.41,446.63 L275.99,446.63 L276.57,446.63 L277.14,446.63 L277.72,446.63 L278.30,446.63 L278.87,446.63 L279.45,446.63 L280.03,446.63 L280.60,446.63 L281.18,446.63 L281.76,446.63 L282.34,446.63 L282.91,446.63 L283.49,446.63 L284.07,446.63 L284.64,446.63 L285.22,446.63 L285.80,446.63 L286.37,446.63 L286.95,446.63 L287.53,446.63 L288.11,446.63 L288.68,446.63 L289.26,446.63 L289.84,446.63 L290.41,446.63 L290.99,446.63 L291.57,446.63 L292.14,446.63 L292.72,446.63 L293.30,446.63 L293.87,446.63 L294.45,446.63 L295.03,446.63 L295.61,446.63 L296.18,446.63 L296.76,446.63 L297.34,446.63 L297.91,446.63 L298.49,446.63 L299.07,446.63 L299.64,446.63 L300.22,446.63 L300.80,446.63 L301.37,446.63 L301.95,446.63 L302.53,446.63 L303.11,446.63 L303.68,446.63 L304.26,446.63 L304.84,446.63 L305.41,446.63 L305.99,446.63 L306.57,446.63 L307.14,446.63 L307.72,446.63 L308.30,446.63 L308.87,446.63 L309.45,446.63 L310.03,446.63 L310.61,446.63 L311.18,446.63 L311.76,446.63 L312.34,446.63 L312.91,446.63 L313.49,446.63 L314.07,446.63 L314.64,446.63 L315.22,446.63 L315.80,446.63 L316.38,446.63 L316.95,446.63 L317.53,446.63 L318.11,446.63 L318.68,446.63 L319.26,446.63 L319.84,446.63 L320.41,446.63 L320.99,446.63 L321.57,446.63 L322.14,446.63 L322.72,446.63 L323.30,446.63 L323.88,446.63 L324.45,446.63 L325.03,446.63 L325.61,446.63 L326.18,446.63 L326.76,446.63 L327.34,446.63 L327.91,446.63 L328.49,446.63 L329.07,446.63 L329.64,446.63 L330.22,446.63 L330.80,446.63 L331.38,446.63 L331.95,446.63 L332.53,446.63 L333.11,446.63 L333.68,446.63 L334.26,446.63 L334.84,446.63 L335.41,446.63 L335.99,446.63 L336.57,446.63 L337.14,446.63 L337.72,446.63 L338.30,446.63 L338.88,446.63 L339.45,446.63 L340.03,446.63 L340.61,446.63 L341.18,446.63 L341.76,446.63 L342.34,446.63 L342.91,446.63 L343.49,446.63 L344.07,446.63 L344.65,446.63 L345.22,446.63 L345.80,446.63 L346.38,446.63 L346.95,446.63 L347.53,446.63 L348.11,446.63 L348.68,446.63 L349.26,446.63 L349.84,446.63 L350.41,446.63 L350.99,446.63 L351.57,446.63 L352.15,446.63 L352.72,446.63 L353.30,446.63 L353.88,446.63 L354.45,446.63 L355.03,446.63 L355.61,446.63 L356.18,446.63 L356.76,446.63 L357.34,446.63 L357.91,446.63 L358.49,446.63 L359.07,446.63 L359.65,446.63 L360.22,446.63 L360.80,446.63 L361.38,446.63 L361.95,446.63 L362.53,446.63 L363.11,446.63 L363.68,446.63 L364.26,446.63 L364.84,446.63 L365.42,446.63 L365.99,446.63 L366.57,446.63 L367.15,446.63 L367.72,446.63 L368.30,446.63 L368.88,446.63 L369.45,446.63 L370.03,446.63 L370.61,446.63 L371.18,446.63 L371.76,446.63 L372.34,446.63 L372.92,446.63 L373.49,446.63 L374.07,446.63 L374.65,446.63 L375.22,446.63 L375.80,446.63 L376.38,446.63 L376.95,446.63 L377.53,446.63 L378.11,446.63 L378.68,446.63 L379.26,446.63 L379.84,446.63 L380.42,446.63 L380.99,446.63 L381.57,446.63 L382.15,446.63 L382.72,446.63 L383.30,446.63 L383.88,446.63 L384.45,446.63 L385.03,446.63 L385.61,446.63 L386.18,446.63 L386.76,446.63 L387.34,446.63 L387.92,446.63 L388.49,446.63 L389.07,446.63 L389.65,446.63 L390.22,446.63 L390.80,446.63 L391.38,446.63 L391.95,446.63 L392.53,446.63 L393.11,446.63 L393.69,446.63 L394.26,446.63 L394.84,446.63 L395.42,446.63 L395.99,446.63 L396.57,446.63 L397.15,446.63 L397.72,446.63 L398.30,446.63 L398.88,446.63 L399.45,446.63 L400.03,446.63 L400.61,446.63 L401.19,446.63 L401.76,446.63 L402.34,446.63 L402.92,446.63 L403.49,446.63 L404.07,446.63 L404.65,446.63 L405.22,446.63 L405.80,446.63 L406.38,446.63 L406.95,446.63 L407.53,446.63 L408.11,446.63 L408.69,446.63 L409.26,446.63 L409.84,446.63 L410.42,446.63 L410.99,446.63 L411.57,446.63 L412.15,446.63 L412.72,446.63 L413.30,446.63 L413.88,446.63 L414.45,446.63 L415.03,446.63 L415.61,446.63 L416.19,446.63 L416.76,446.63 L417.34,446.63 L417.92,446.63 L418.49,446.63 L419.07,446.63 L419.65,446.63 L420.22,446.63 L420.80,446.63 L421.38,446.63 L421.96,446.63 L422.53,446.63 L423.11,446.63 L423.69,446.63 L424.26,446.63 L424.84,446.63 L425.42,446.63 L425.99,446.63 L426.57,446.63 L427.15,446.63 L427.72,446.63 L428.30,446.63 L428.88,446.63 L429.46,446.63 L430.03,446.63 L430.61,446.63 L431.19,446.63 L431.76,446.63 L432.34,446.63 L432.92,446.63 L433.49,446.63 L434.07,446.63 L434.65,446.63 L435.22,446.63 L435.80,446.63 L436.38,446.63 L436.96,446.63 L437.53,446.63 L438.11,446.63 L438.69,446.63 L439.26,446.63 L439.84,446.63 L440.42,446.63 L440.99,446.63 L441.57,446.63 L442.15,446.63 L442.72,446.63 L443.30,446.63 L443.88,446.63 L444.46,446.63 L445.03,446.63 L445.61,446.63 L446.19,446.63 L446.76,446.63 L447.34,446.63 L447.92,446.63 L448.49,446.63 L449.07,446.63 L449.65,446.63 L450.23,446.63 L450.80,446.63 L451.38,446.63 L451.96,446.63 L452.53,446.63 L453.11,446.63 L453.69,446.63 L454.26,446.63 L454.84,446.63 L455.42,446.63 L455.99,446.63 L456.57,446.63 L457.15,446.63 L457.73,446.63 L458.30,446.63 L458.88,446.63 L459.46,446.63 L460.03,446.63 L460.61,446.63 L461.19,446.63 L461.76,446.63 L462.34,446.63 L462.92,446.63 L463.49,446.63 L464.07,446.63 L464.65,446.63 L465.23,446.63 L465.80,446.63 L466.38,446.63 L466.96,446.63 L467.53,446.63 L468.11,446.63 L468.69,446.63 L469.26,446.63 L469.84,446.63 L470.42,446.63 L471.00,446.63 L471.57,446.63 L472.15,446.63 L472.73,446.63 L473.30,446.63 L473.88,446.63 L474.46,446.63 L475.03,446.63 L475.61,446.63 L476.19,446.63 L476.76,446.63 L477.34,446.63 L477.92,446.63 L478.50,446.63 L479.07,446.63 L479.65,446.63 L480.23,446.63 L480.80,446.63 L481.38,446.63 L481.96,446.63 L482.53,446.63 L483.11,446.63 L483.69,446.63 L484.26,446.63 L484.84,446.63 L485.42,446.63 L486.00,446.63 L486.57,446.63 L487.15,446.63 L487.73,446.63 L488.30,446.63 L488.88,446.63 L489.46,446.63 L490.03,446.63 L490.61,446.63 L491.19,446.63 L491.76,446.63 L492.34,446.63 L492.92,446.63 L493.50,446.63 L494.07,446.63 L494.65,446.63 L495.23,446.63 L495.80,446.63 L496.38,446.63 L496.96,446.63 L497.53,446.63 L498.11,446.63 L498.69,446.63 L499.27,446.63 L499.84,446.63 L500.42,446.63 L501.00,446.63 L501.57,446.63 L502.15,446.63 L502.73,446.63 L503.30,446.63 L503.88,446.63 L504.46,446.63 L505.03,446.63 L505.61,446.63 L506.19,446.63 L506.77,446.63 L507.34,446.63 L507.92,446.63 L508.50,446.63 L509.07,446.63 L509.65,446.63 L510.23,446.63 L510.80,446.63 L511.38,446.63 L511.96,446.63 L512.53,446.63 L513.11,446.63 L513.69,446.63 L514.27,446.63 L514.84,446.63 L515.42,446.63 L516.00,446.63 L516.57,446.63 L517.15,446.63 L517.73,446.63 L518.30,446.63 L518.88,446.63 L519.46,446.63 L520.03,446.63 L520.61,446.63 L521.19,446.63 L521.77,446.63 L522.34,446.63 L522.92,446.63 L523.50,446.63 L524.07,446.63 L524.65,446.63 L525.23,446.63 L525.80,446.63 L526.38,446.63 L526.96,446.63 L527.54,446.63 L528.11,446.63 L528.69,446.63 L529.27,446.63 L529.84,446.63 L530.42,446.63 L531.00,446.63 L531.57,446.63 L532.15,446.63 L532.73,446.63 L533.30,446.63 L533.88,446.63 L534.46,446.63 L535.04,446.63 L535.61,446.63 L536.19,446.63 L536.77,446.63 L537.34,446.63 L537.92,446.63 L538.50,446.63 L539.07,446.63 L539.65,446.63 L540.23,446.63 L540.80,446.63 L541.38,446.63 L541.96,446.63 L542.54,446.63 L543.11,446.63 L543.69,446.63 L544.27,446.63 L544.84,446.63 L545.42,446.63 L546.00,446.63 L546.57,446.63 L547.15,446.63 L547.73,446.63 L548.30,446.63 L548.88,446.63 L549.46,446.63 L550.04,446.63 L550.61,446.63 L551.19,446.63 L551.77,446.63 L552.34,446.63 L552.92,446.63 L553.50,446.63 L554.07,446.63 L554.65,446.63 L555.23,446.63 L555.81,446.63 L556.38,446.63 L556.96,446.63 L557.54,446.63 L558.11,446.63 L558.69,446.63 L559.27,446.63 L559.84,446.63 L560.42,446.63 L561.00,446.63 L561.57,446.63 L562.15,446.63 L562.73,446.63 L563.31,446.63 L563.88,446.63 L564.46,446.63 L565.04,446.63 L565.61,446.63 L566.19,446.63 L566.77,446.63 L567.34,446.63 L567.92,446.63 L568.50,446.63 L569.07,446.63 L569.65,446.63 L570.23,446.63 L570.81,446.63 L571.38,446.63 L571.96,446.63 L572.54,446.63 L573.11,446.63 L573.69,446.63 L574.27,446.63 L574.84,446.63 L575.42,446.63 L576.00,446.63 L576.58,446.63 L577.15,446.63 L577.73,446.63 L578.31,446.63 L578.88,446.63 L579.46,446.63 L580.04,446.63 L580.61,446.63 L581.19,446.63 L581.77,446.63 L582.34,446.63 L582.92,446.63 L583.50,446.63 L584.08,446.63 L584.65,446.63 L585.23,446.63 L585.81,446.63 L586.38,446.63 L586.96,446.63 L587.54,446.63 L588.11,446.63 L588.69,446.63 L589.27,446.63 L589.84,446.63 L590.42,446.63 L591.00,446.63 L591.58,446.63 L592.15,446.63 L592.73,446.63 L593.31,446.63 L593.88,446.63 L594.46,446.63 L595.04,446.63 L595.61,446.63 L596.19,446.63 L596.77,446.63 L597.34,446.63 L597.92,446.63 L598.50,446.63 L599.08,446.63 L599.65,446.63 L600.23,446.63 L600.81,446.63 L601.38,446.63 L601.96,446.63 L602.54,446.63 L603.11,446.63 L603.69,446.63 L604.27,446.63 L604.85,446.63 L605.42,446.63 L606.00,446.63 L606.58,446.63 L607.15,446.63 L607.73,446.63 L608.31,446.63 L608.88,446.63 L609.46,446.63 L610.04,446.63 L610.61,446.63 L611.19,446.63 L611.77,446.63 L612.35,446.63 L612.92,446.63 L613.50,446.63 L614.08,446.63 L614.65,446.63 L615.23,446.63 L615.81,446.63 L616.38,446.63 L616.96,446.63 L617.54,446.63 L618.11,446.63 L618.69,446.63 L619.27,446.63 L619.85,446.63 L620.42,446.63 L621.00,446.63 L621.58,446.63 L622.15,446.63 L622.73,446.63 L623.31,446.63 L623.88,446.63 L624.46,446.63 L625.04,446.63 L625.61,446.63 L626.19,446.63 L626.77,446.63 L627.35,446.63 L627.92,446.63 L628.50,446.63 L629.08,446.63 L629.65,446.63 L630.23,446.63 L630.81,446.63 L631.38,446.63 L631.96,446.63 L632.54,446.63 L633.12,446.63 L633.69,446.63 L634.27,446.63 L634.85,446.63 L635.42,446.63 L636.00,446.63 L636.58,446.63 L637.15,446.63 L637.73,446.63 L638.31,446.63 L638.88,446.63 L639.46,446.63 L640.04,446.63 L640.62,446.63 L641.19,446.63 L641.77,446.63 L642.35,446.63 L642.92,446.63 L643.50,446.63 L644.08,446.63 L644.65,446.63 L645.23,446.63 L645.81,446.63 L646.38,446.63 L646.96,446.63 L647.54,446.63 L648.12,446.63 L648.69,446.63 L649.27,446.63 L649.85,446.63 L650.42,446.63 L651.00,446.63 L651.58,446.63 L652.15,446.63 L652.73,446.63 L653.31,446.63 L653.89,446.63 L654.46,446.63 L655.04,446.63 L655.62,446.63 L656.19,446.63 L656.77,446.63 L657.35,446.63 L657.92,446.63 L658.50,446.63 L659.08,446.63 L659.65,446.63 L660.23,446.63 L660.81,446.63 L661.39,446.63 L661.96,446.63 L662.54,446.63 L663.12,446.63 L663.69,446.63 L664.27,446.63 L664.85,446.63 L665.42,446.63 L666.00,446.63 L666.58,446.63 L667.15,446.63 L667.73,446.63 L668.31,446.63 L668.89,446.63 L669.46,446.63 L670.04,446.63 L670.62,446.63 L671.19,446.63 L671.77,446.63 L672.35,446.63 L672.92,446.63 L673.50,446.63 L674.08,446.63 L674.65,446.63 L675.23,446.63 L675.81,446.63 L676.39,446.63 L676.96,446.63 L677.54,446.63 L678.12,446.63 L678.69,446.63 L679.27,446.63 L679.85,446.63 L680.42,446.63 L681.00,446.63 L681.58,446.63 L682.16,446.63 L682.73,446.63 L683.31,446.63 L683.89,446.63 L684.46,446.63 L685.04,446.63 L685.62,446.63 L686.19,446.63 L686.77,446.63 L687.35,446.63 L687.92,446.63 L688.50,446.63 L689.08,446.63 L689.66,446.63 L690.23,446.63 L690.81,446.63 L691.39,446.63 L691.96,446.63 L692.54,446.63 L693.12,446.63 L693.69,446.63 L694.27,446.63 L694.85,446.63 L695.42,446.63 L696.00,446.63 L696.58,446.63 L697.16,446.63 L697.73,446.63 L698.31,446.63 L698.89,446.63 L699.46,446.63 L700.04,446.63 L700.62,446.63 L701.19,446.63 L701.77,446.63 L702.35,446.63 L702.92,446.63 L703.50,446.63 L704.08,446.63 L704.66,446.63 L705.23,446.63 L705.81,446.63 L706.39,446.63 L706.96,446.63 L707.54,446.63 L708.12,446.63 L708.69,446.63 L709.27,446.63 L709.85,446.63 L710.43,446.63 L711.00,446.63 L711.58,446.63 L712.16,446.63 L712.73,446.63 L713.31,446.63 L713.89,446.63 L714.46,446.63 L715.04,446.63 L715.62,446.63 L716.19,446.63 L716.77,446.63 L717.35,446.63 L717.93,446.63 L718.50,446.63 L719.08,446.63 L719.66,446.63 L720.23,446.63 L720.81,446.63 L721.39,446.63 L721.96,446.63 L722.54,446.63 L723.12,446.63 L723.69,446.63 L724.27,446.63 L724.85,446.63 L725.43,446.63 L726.00,446.63 L726.58,446.63 L727.16,446.63 L727.73,446.63 L728.31,446.63 L728.89,446.63 L729.46,446.63 L730.04,446.63 L730.62,446.63 L731.19,446.63 L731.77,446.63 L732.35,446.63 L732.93,446.63 L733.50,446.63 L734.08,446.63 L734.66,446.63 L735.23,446.63 L735.81,446.63 L736.39,446.63 L736.96,446.63 L737.54,446.63 L738.12,446.63 L738.70,446.63 L739.27,446.63 L739.85,446.63 L740.43,446.63 L741.00,446.63 L741.58,446.63 L742.16,446.63 L742.73,446.63 L743.31,446.63 L743.89,446.63 L744.46,446.63 L745.04,446.63 L745.62,446.63 L746.20,446.63 L746.77,446.63 L747.35,446.63 L747.93,446.63 L748.50,446.63 L749.08,446.63 L749.66,446.63 L750.23,446.63 L750.81,446.63 L751.39,446.63 L751.96,446.63 L752.54,446.63 L753.12,446.63 L753.70,446.63 L754.27,446.63 L754.85,446.63 L755.43,446.63 L756.00,446.63 L756.58,446.63 L757.16,446.63 L757.73,446.63 L758.31,446.63 L758.89,446.63 L759.47,446.63 L760.04,446.63 L760.62,446.63 L761.20,446.63 L761.77,446.63 L762.35,446.63 L762.93,446.63 L763.50,446.63 L764.08,446.63 L764.66,446.63 L765.23,446.63 L765.81,446.63 L766.39,446.63 L766.97,446.63 L767.54,446.63 L768.12,446.63 L768.70,446.63 L769.27,446.63 L769.85,446.63 L770.43,446.63 L771.00,446.63 L771.58,446.63 L772.16,446.63 L772.73,446.63 L773.31,446.63 L773.89,446.63 L774.47,446.63 L775.04,446.63 L775.62,446.63 L776.20,446.63 L776.77,446.63 L777.35,446.63 L777.93,446.63 L778.50,446.63 L779.08,446.63 L779.66,446.63 L780.23,446.63 L780.81,446.63 L781.39,446.63 L781.97,446.63 L782.54,446.63 L783.12,446.63 L783.70,446.63 L784.27,446.63 L784.85,446.63 L785.43,446.63 L786.00,446.63 L786.58,446.63 L787.16,446.63 L787.74,446.63 L788.31,446.63 L788.89,446.63 L789.47,446.63 L790.04,446.63 L790.62,446.63 L791.20,446.63 L791.77,446.63 L792.35,446.63 L792.93,446.63 L793.50,446.63 L794.08,446.63 L794.66,446.63 L795.24,446.63 L795.81,446.63 L796.39,446.63 L796.97,446.63 L797.54,446.63 L798.12,446.63 L798.70,446.63 L799.27,446.63 L799.85,446.63 L800.43,446.63 L801.00,446.63 L801.58,446.63 L802.16,446.63 L802.74,446.63 L803.31,446.63 L803.89,446.63 L804.47,446.63 L805.04,446.63 L805.62,446.63 L806.20,446.63 L806.77,446.63 L807.35,446.63 L807.93,446.63" fill="none" stroke="#8e4094" stroke-width="2.70" stroke-dasharray="10.15 4.45" stroke-dashoffset="13.61"/>
<circle cx="315.31" cy="337.00" r="6.30" fill="#4455a5"/>
<circle cx="348.59" cy="371.40" r="6.30" fill="#4455a5"/>
<circle cx="381.88" cy="419.10" r="6.30" fill="#4455a5"/>
<circle cx="415.16" cy="455.00" r="6.30" fill="#4455a5"/>
<circle cx="448.45" cy="459.10" r="6.30" fill="#4455a5"/>
<circle cx="515.02" cy="466.20" r="6.30" fill="#4455a5"/>
<circle cx="581.59" cy="468.00" r="6.30" fill="#4455a5"/>
<circle cx="648.16" cy="471.30" r="6.30" fill="#4455a5"/>
<circle cx="714.73" cy="471.80" r="6.30" fill="#4455a5"/>
<circle cx="781.30" cy="471.00" r="6.30" fill="#4455a5"/>
<circle cx="148.88" cy="342.40" r="6.30" fill="#4d8248"/>
<circle cx="155.54" cy="362.30" r="6.30" fill="#4d8248"/>
<circle cx="165.53" cy="406.60" r="6.30" fill="#4d8248"/>
<circle cx="182.17" cy="436.70" r="6.30" fill="#4d8248"/>
<circle cx="215.45" cy="446.40" r="6.30" fill="#4d8248"/>
<circle cx="248.74" cy="445.20" r="6.30" fill="#4d8248"/>
<circle cx="282.02" cy="450.00" r="6.30" fill="#4d8248"/>
<circle cx="315.31" cy="447.80" r="6.30" fill="#4d8248"/>
<circle cx="381.88" cy="446.60" r="6.30" fill="#4d8248"/>
<circle cx="448.45" cy="448.90" r="6.30" fill="#4d8248"/>
<circle cx="515.02" cy="450.50" r="6.30" fill="#4d8248"/>
<circle cx="581.59" cy="444.70" r="6.30" fill="#4d8248"/>
<circle cx="648.16" cy="452.00" r="6.30" fill="#4d8248"/>
<circle cx="714.73" cy="449.60" r="6.30" fill="#4d8248"/>
<circle cx="781.30" cy="447.90" r="6.30" fill="#4d8248"/>
<circle cx="128.91" cy="343.50" r="6.30" fill="#ce2629"/>
<circle cx="148.88" cy="385.20" r="6.30" fill="#ce2629"/>
<circle cx="165.53" cy="422.80" r="6.30" fill="#ce2629"/>
<circle cx="182.17" cy="457.00" r="6.30" fill="#ce2629"/>
<circle cx="215.45" cy="462.40" r="6.30" fill="#ce2629"/>
<circle cx="248.74" cy="470.10" r="6.30" fill="#ce2629"/>
<circle cx="315.31" cy="469.70" r="6.30" fill="#ce2629"/>
<circle cx="381.88" cy="469.70" r="6.30" fill="#ce2629"/>
<circle cx="448.45" cy="467.40" r="6.30" fill="#ce2629"/>
<circle cx="515.02" cy="470.00" r="6.30" fill="#ce2629"/>
<circle cx="581.59" cy="469.20" r="6.30" fill="#ce2629"/>
<circle cx="648.16" cy="468.80" r="6.30" fill="#ce2629"/>
<circle cx="714.73" cy="468.80" r="6.30" fill="#ce2629"/>
<circle cx="781.30" cy="469.70" r="6.30" fill="#ce2629"/>
<circle cx="122.26" cy="350.20" r="6.30" fill="#8e4094"/>
<circle cx="128.91" cy="405.90" r="6.30" fill="#8e4094"/>
<circle cx="135.57" cy="438.70" r="6.30" fill="#8e4094"/>
<circle cx="148.88" cy="443.60" r="6.30" fill="#8e4094"/>
<circle cx="165.53" cy="446.10" r="6.30" fill="#8e4094"/>
<circle cx="182.17" cy="446.50" r="6.30" fill="#8e4094"/>
<circle cx="215.45" cy="447.80" r="6.30" fill="#8e4094"/>
<circle cx="248.74" cy="446.40" r="6.30" fill="#8e4094"/>
<circle cx="315.31" cy="446.20" r="6.30" fill="#8e4094"/>
<circle cx="381.88" cy="448.30" r="6.30" fill="#8e4094"/>
<circle cx="448.45" cy="447.80" r="6.30" fill="#8e4094"/>
<circle cx="515.02" cy="446.30" r="6.30" fill="#8e4094"/>
<circle cx="581.59" cy="446.60" r="6.30" fill="#8e4094"/>
<circle cx="648.16" cy="445.80" r="6.30" fill="#8e4094"/>
</g>
<rect x="115.60" y="17.90" width="678.80" height="492.60" fill="none" stroke="#000" stroke-width="1.50" stroke-linejoin="miter"/>
<line x1="111.70" y1="510.64" x2="115.60" y2="510.64" stroke="#000" stroke-width="1.1"/>
<line x1="111.70" y1="498.82" x2="115.60" y2="498.82" stroke="#000" stroke-width="1.1"/>
<line x1="111.70" y1="488.83" x2="115.60" y2="488.83" stroke="#000" stroke-width="1.1"/>
<line x1="111.70" y1="480.17" x2="115.60" y2="480.17" stroke="#000" stroke-width="1.1"/>
<line x1="111.70" y1="472.53" x2="115.60" y2="472.53" stroke="#000" stroke-width="1.1"/>
<line x1="109.00" y1="465.70" x2="115.60" y2="465.70" stroke="#000" stroke-width="1.5"/>
<line x1="111.70" y1="420.76" x2="115.60" y2="420.76" stroke="#000" stroke-width="1.1"/>
<line x1="111.70" y1="394.47" x2="115.60" y2="394.47" stroke="#000" stroke-width="1.1"/>
<line x1="111.70" y1="375.81" x2="115.60" y2="375.81" stroke="#000" stroke-width="1.1"/>
<line x1="111.70" y1="361.34" x2="115.60" y2="361.34" stroke="#000" stroke-width="1.1"/>
<line x1="111.70" y1="349.52" x2="115.60" y2="349.52" stroke="#000" stroke-width="1.1"/>
<line x1="111.70" y1="339.53" x2="115.60" y2="339.53" stroke="#000" stroke-width="1.1"/>
<line x1="111.70" y1="330.87" x2="115.60" y2="330.87" stroke="#000" stroke-width="1.1"/>
<line x1="111.70" y1="323.23" x2="115.60" y2="323.23" stroke="#000" stroke-width="1.1"/>
<line x1="109.00" y1="316.40" x2="115.60" y2="316.40" stroke="#000" stroke-width="1.5"/>
<line x1="111.70" y1="271.46" x2="115.60" y2="271.46" stroke="#000" stroke-width="1.1"/>
<line x1="111.70" y1="245.17" x2="115.60" y2="245.17" stroke="#000" stroke-width="1.1"/>
<line x1="111.70" y1="226.51" x2="115.60" y2="226.51" stroke="#000" stroke-width="1.1"/>
<line x1="111.70" y1="212.04" x2="115.60" y2="212.04" stroke="#000" stroke-width="1.1"/>
<line x1="111.70" y1="200.22" x2="115.60" y2="200.22" stroke="#000" stroke-width="1.1"/>
<line x1="111.70" y1="190.23" x2="115.60" y2="190.23" stroke="#000" stroke-width="1.1"/>
<line x1="111.70" y1="181.57" x2="115.60" y2="181.57" stroke="#000" stroke-width="1.1"/>
<line x1="111.70" y1="173.93" x2="115.60" y2="173.93" stroke="#000" stroke-width="1.1"/>
<line x1="109.00" y1="167.10" x2="115.60" y2="167.10" stroke="#000" stroke-width="1.5"/>
<line x1="111.70" y1="122.16" x2="115.60" y2="122.16" stroke="#000" stroke-width="1.1"/>
<line x1="111.70" y1="95.87" x2="115.60" y2="95.87" stroke="#000" stroke-width="1.1"/>
<line x1="111.70" y1="77.21" x2="115.60" y2="77.21" stroke="#000" stroke-width="1.1"/>
<line x1="111.70" y1="62.74" x2="115.60" y2="62.74" stroke="#000" stroke-width="1.1"/>
<line x1="111.70" y1="50.92" x2="115.60" y2="50.92" stroke="#000" stroke-width="1.1"/>
<line x1="111.70" y1="40.93" x2="115.60" y2="40.93" stroke="#000" stroke-width="1.1"/>
<line x1="111.70" y1="32.27" x2="115.60" y2="32.27" stroke="#000" stroke-width="1.1"/>
<line x1="111.70" y1="24.63" x2="115.60" y2="24.63" stroke="#000" stroke-width="1.1"/>
<line x1="109.00" y1="17.80" x2="115.60" y2="17.80" stroke="#000" stroke-width="1.5"/>
<line x1="115.60" y1="510.50" x2="115.60" y2="516.70" stroke="#000" stroke-width="1.5"/>
<line x1="248.74" y1="510.50" x2="248.74" y2="516.70" stroke="#000" stroke-width="1.5"/>
<line x1="381.88" y1="510.50" x2="381.88" y2="516.70" stroke="#000" stroke-width="1.5"/>
<line x1="515.02" y1="510.50" x2="515.02" y2="516.70" stroke="#000" stroke-width="1.5"/>
<line x1="648.16" y1="510.50" x2="648.16" y2="516.70" stroke="#000" stroke-width="1.5"/>
<line x1="781.30" y1="510.50" x2="781.30" y2="516.70" stroke="#000" stroke-width="1.5"/>
<text x="0" y="0" font-family="Liberation Sans, sans-serif" font-size="35.60" transform="translate(105.57,548.90) scale(1.0059,1)" stroke="#000" stroke-width="0.5">0</text>
<text x="0" y="0" font-family="Liberation Sans, sans-serif" font-size="35.60" transform="translate(238.40,548.90) scale(0.9847,1)" stroke="#000" stroke-width="0.5">2</text>
<text x="0" y="0" font-family="Liberation Sans, sans-serif" font-size="35.60" transform="translate(371.91,548.90) scale(0.9901,1)" stroke="#000" stroke-width="0.5">4</text>
<text x="0" y="0" font-family="Liberation Sans, sans-serif" font-size="35.60" transform="translate(504.22,548.90) scale(1.0568,1)" stroke="#000" stroke-width="0.5">6</text>
<text x="0" y="0" font-family="Liberation Sans, sans-serif" font-size="35.60" transform="translate(637.47,548.90) scale(1.0758,1)" stroke="#000" stroke-width="0.5">8</text>
<text x="0" y="0" font-family="Liberation Sans, sans-serif" font-size="35.60" transform="translate(760.68,548.90) scale(1.0194,1)" stroke="#000" stroke-width="0.5">10</text>
<text x="0" y="0" font-family="Liberation Sans, sans-serif" font-size="35.60" transform="translate(44.71,477.20) scale(1.0081,1)" stroke="#000" stroke-width="0.5">10</text>
<text x="0" y="0" font-family="Liberation Sans, sans-serif" font-size="24.92" transform="translate(87.18,464.90) scale(0.9185,1)" stroke="#000" stroke-width="0.35">1</text>
<text x="0" y="0" font-family="Liberation Sans, sans-serif" font-size="35.60" transform="translate(44.71,327.90) scale(1.0081,1)" stroke="#000" stroke-width="0.5">10</text>
<text x="0" y="0" font-family="Liberation Sans, sans-serif" font-size="24.92" transform="translate(86.24,315.60) scale(1.0142,1)" stroke="#000" stroke-width="0.35">2</text>
<text x="0" y="0" font-family="Liberation Sans, sans-serif" font-size="35.60" transform="translate(44.71,178.60) scale(1.0081,1)" stroke="#000" stroke-width="0.5">10</text>
<text x="0" y="0" font-family="Liberation Sans, sans-serif" font-size="24.92" transform="translate(87.02,166.30) scale(0.9462,1)" stroke="#000" stroke-width="0.35">3</text>
<text x="0" y="0" font-family="Liberation Sans, sans-serif" font-size="35.60" transform="translate(44.71,29.30) scale(1.0081,1)" stroke="#000" stroke-width="0.5">10</text>
<text x="0" y="0" font-family="Liberation Sans, sans-serif" font-size="24.92" transform="translate(86.44,17.00) scale(0.9933,1)" stroke="#000" stroke-width="0.35">4</text>
<text x="455.65" y="589.5" font-family="Liberation Sans, sans-serif" font-size="36.80" text-anchor="middle">Cooling time (ms)</text>
<text x="0" y="0" font-family="Liberation Sans, sans-serif" font-size="36.80" transform="translate(25.9,429.8) rotate(-90)">Phonon number</text>
<text x="0" y="0" font-family="Liberation Sans, sans-serif" font-size="36.80" transform="translate(25.9,134.2) rotate(-90)">n</text>
<polyline points="-1,110.8 16.8,103.2 33.6,110.8" fill="none" stroke="#000" stroke-width="1.8"/>
<polyline points="-1,137.6 16.8,145.1 33.6,137.6" fill="none" stroke="#000" stroke-width="1.8"/>
<rect x="229.4" y="27.0" width="556.1" height="113.1" rx="3.5" ry="3.5" fill="#fff" fill-opacity="0.8" stroke="#c8c8c8" stroke-width="1.7"/>
<line x1="255.00" y1="32.80" x2="255.00" y2="51.00" stroke="#4455a5" stroke-width="2.60"/>
<line x1="247.40" y1="32.80" x2="262.60" y2="32.80" stroke="#4455a5" stroke-width="1.75"/>
<line x1="247.40" y1="51.00" x2="262.60" y2="51.00" stroke="#4455a5" stroke-width="1.75"/>
<circle cx="255.00" cy="41.90" r="6.30" fill="#4455a5"/>
<text x="0" y="0" font-family="Liberation Sans, sans-serif" font-size="19.50" transform="translate(287.00,49.00) scale(1.0888,1)" stroke="#000" stroke-width="0.35">Deteriorated</text>
<text x="0" y="0" font-family="Liberation Sans, sans-serif" font-size="19.50" transform="translate(409.55,49.00) scale(1.0543,1)" stroke="#000" stroke-width="0.35">Doppler</text>
<text x="0" y="0" font-family="Liberation Sans, sans-serif" font-size="19.50" transform="translate(488.60,49.00) scale(1.0829,1)" stroke="#000" stroke-width="0.35">cooling,</text>
<text x="0" y="0" font-family="Liberation Sans, sans-serif" font-size="19.50" transform="translate(565.52,49.00) scale(0.9216,1)" stroke="#000" stroke-width="0.35">PGC</text>
<text x="0" y="0" font-family="Liberation Sans, sans-serif" font-size="19.50" transform="translate(609.58,49.00) scale(1.1042,1)" stroke="#000" stroke-width="0.35">detuning:</text>
<text x="0" y="0" font-family="Liberation Sans, sans-serif" font-size="19.50" transform="translate(702.99,49.00) scale(1.0335,1)" stroke="#000" stroke-width="0.35">180MHz</text>
<line x1="255.00" y1="59.67" x2="255.00" y2="77.87" stroke="#4d8248" stroke-width="2.60"/>
<line x1="247.40" y1="59.67" x2="262.60" y2="59.67" stroke="#4d8248" stroke-width="1.75"/>
<line x1="247.40" y1="77.87" x2="262.60" y2="77.87" stroke="#4d8248" stroke-width="1.75"/>
<circle cx="255.00" cy="68.77" r="6.30" fill="#4d8248"/>
<text x="0" y="0" font-family="Liberation Sans, sans-serif" font-size="19.50" transform="translate(287.00,75.87) scale(1.0888,1)" stroke="#000" stroke-width="0.35">Deteriorated</text>
<text x="0" y="0" font-family="Liberation Sans, sans-serif" font-size="19.50" transform="translate(409.55,75.87) scale(1.0543,1)" stroke="#000" stroke-width="0.35">Doppler</text>
<text x="0" y="0" font-family="Liberation Sans, sans-serif" font-size="19.50" transform="translate(488.60,75.87) scale(1.0829,1)" stroke="#000" stroke-width="0.35">cooling,</text>
<text x="0" y="0" font-family="Liberation Sans, sans-serif" font-size="19.50" transform="translate(565.52,75.87) scale(0.9216,1)" stroke="#000" stroke-width="0.35">PGC</text>
<text x="0" y="0" font-family="Liberation Sans, sans-serif" font-size="19.50" transform="translate(609.58,75.87) scale(1.1042,1)" stroke="#000" stroke-width="0.35">detuning:</text>
<text x="0" y="0" font-family="Liberation Sans, sans-serif" font-size="19.50" transform="translate(703.66,75.87) scale(1.0173,1)" stroke="#000" stroke-width="0.35">80MHz</text>
<line x1="255.00" y1="86.54" x2="255.00" y2="104.74" stroke="#ce2629" stroke-width="2.60"/>
<line x1="247.40" y1="86.54" x2="262.60" y2="86.54" stroke="#ce2629" stroke-width="1.75"/>
<line x1="247.40" y1="104.74" x2="262.60" y2="104.74" stroke="#ce2629" stroke-width="1.75"/>
<circle cx="255.00" cy="95.64" r="6.30" fill="#ce2629"/>
<text x="0" y="0" font-family="Liberation Sans, sans-serif" font-size="19.50" transform="translate(287.49,102.74) scale(1.0861,1)" stroke="#000" stroke-width="0.35">Optimum</text>
<text x="0" y="0" font-family="Liberation Sans, sans-serif" font-size="19.50" transform="translate(378.80,102.74) scale(1.0543,1)" stroke="#000" stroke-width="0.35">Doppler</text>
<text x="0" y="0" font-family="Liberation Sans, sans-serif" font-size="19.50" transform="translate(457.85,102.74) scale(1.0829,1)" stroke="#000" stroke-width="0.35">cooling,</text>
<text x="0" y="0" font-family="Liberation Sans, sans-serif" font-size="19.50" transform="translate(534.77,102.74) scale(0.9216,1)" stroke="#000" stroke-width="0.35">PGC</text>
<text x="0" y="0" font-family="Liberation Sans, sans-serif" font-size="19.50" transform="translate(579.58,102.74) scale(1.1042,1)" stroke="#000" stroke-width="0.35">detuning:</text>
<text x="0" y="0" font-family="Liberation Sans, sans-serif" font-size="19.50" transform="translate(672.74,102.74) scale(1.0335,1)" stroke="#000" stroke-width="0.35">180MHz</text>
<line x1="255.00" y1="113.41" x2="255.00" y2="131.61" stroke="#8e4094" stroke-width="2.60"/>
<line x1="247.40" y1="113.41" x2="262.60" y2="113.41" stroke="#8e4094" stroke-width="1.75"/>
<line x1="247.40" y1="131.61" x2="262.60" y2="131.61" stroke="#8e4094" stroke-width="1.75"/>
<circle cx="255.00" cy="122.51" r="6.30" fill="#8e4094"/>
<text x="0" y="0" font-family="Liberation Sans, sans-serif" font-size="19.50" transform="translate(287.49,129.61) scale(1.0861,1)" stroke="#000" stroke-width="0.35">Optimum</text>
<text x="0" y="0" font-family="Liberation Sans, sans-serif" font-size="19.50" transform="translate(378.80,129.61) scale(1.0543,1)" stroke="#000" stroke-width="0.35">Doppler</text>
<text x="0" y="0" font-family="Liberation Sans, sans-serif" font-size="19.50" transform="translate(457.85,129.61) scale(1.0829,1)" stroke="#000" stroke-width="0.35">cooling,</text>
<text x="0" y="0" font-family="Liberation Sans, sans-serif" font-size="19.50" transform="translate(534.77,129.61) scale(0.9216,1)" stroke="#000" stroke-width="0.35">PGC</text>
<text x="0" y="0" font-family="Liberation Sans, sans-serif" font-size="19.50" transform="translate(579.58,129.61) scale(1.1042,1)" stroke="#000" stroke-width="0.35">detuning:</text>
<text x="0" y="0" font-family="Liberation Sans, sans-serif" font-size="19.50" transform="translate(673.41,129.61) scale(1.0090,1)" stroke="#000" stroke-width="0.35">80MHz</text>
</svg>
</body></html>
